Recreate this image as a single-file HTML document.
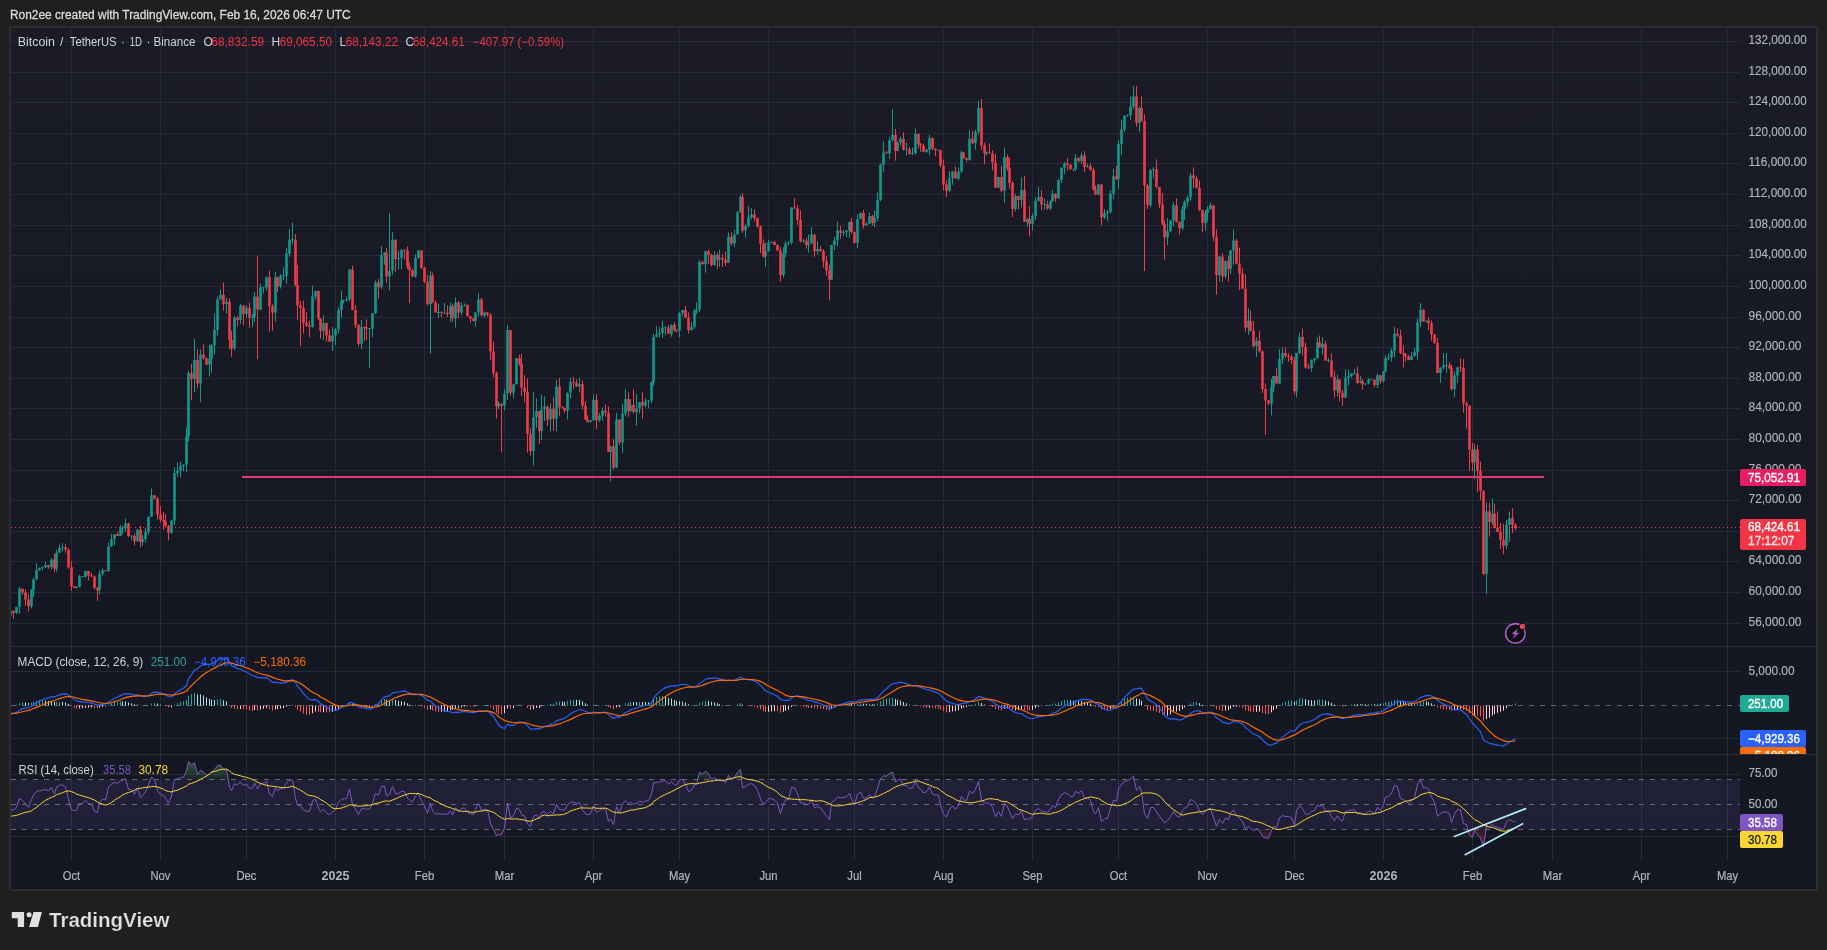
<!DOCTYPE html>
<html><head><meta charset="utf-8">
<style>
html,body{margin:0;padding:0;background:#1f1f1f;width:1827px;height:950px;overflow:hidden;}
svg{position:absolute;left:0;top:0;will-change:transform;}
text{font-family:"Liberation Sans",sans-serif;}
.t{opacity:0.999}
</style></head>
<body>
<svg width="1827" height="950" viewBox="0 0 1827 950">
<defs>
<clipPath id="cp"><rect x="11" y="28" width="1729" height="618"/></clipPath>
<clipPath id="cm"><rect x="11" y="647" width="1729" height="107"/></clipPath>
<clipPath id="cr"><rect x="11" y="755" width="1729" height="106"/></clipPath>
<linearGradient id="bgg" x1="0" y1="0" x2="0" y2="1"><stop offset="0" stop-color="#1a1b27"/><stop offset="1" stop-color="#131722"/></linearGradient>
<linearGradient id="obg" x1="0" y1="0" x2="0" y2="1"><stop offset="0" stop-color="#4caf50" stop-opacity="0.55"/><stop offset="1" stop-color="#4caf50" stop-opacity="0.1"/></linearGradient>
</defs>
<rect x="0" y="0" width="1827" height="950" fill="#1f1f1f"/>
<!-- chart frame -->
<rect x="9" y="26" width="1809" height="865" fill="#2b2e31"/>
<rect x="11" y="28" width="1805" height="861" fill="url(#bgg)"/>
<!-- grid -->
<g stroke="#262936" stroke-width="1" shape-rendering="crispEdges">
<line x1="71.5" y1="28" x2="71.5" y2="861"/>
<line x1="160.5" y1="28" x2="160.5" y2="861"/>
<line x1="246.5" y1="28" x2="246.5" y2="861"/>
<line x1="335.5" y1="28" x2="335.5" y2="861"/>
<line x1="424.5" y1="28" x2="424.5" y2="861"/>
<line x1="504.5" y1="28" x2="504.5" y2="861"/>
<line x1="593.5" y1="28" x2="593.5" y2="861"/>
<line x1="679.5" y1="28" x2="679.5" y2="861"/>
<line x1="768.5" y1="28" x2="768.5" y2="861"/>
<line x1="854.5" y1="28" x2="854.5" y2="861"/>
<line x1="943.5" y1="28" x2="943.5" y2="861"/>
<line x1="1032.5" y1="28" x2="1032.5" y2="861"/>
<line x1="1118.5" y1="28" x2="1118.5" y2="861"/>
<line x1="1207.5" y1="28" x2="1207.5" y2="861"/>
<line x1="1294.5" y1="28" x2="1294.5" y2="861"/>
<line x1="1383.5" y1="28" x2="1383.5" y2="861"/>
<line x1="1472.5" y1="28" x2="1472.5" y2="861"/>
<line x1="1552.5" y1="28" x2="1552.5" y2="861"/>
<line x1="1641.5" y1="28" x2="1641.5" y2="861"/>
<line x1="1727.5" y1="28" x2="1727.5" y2="861"/>
<line x1="11" y1="41.5" x2="1740" y2="41.5"/>
<line x1="11" y1="72.5" x2="1740" y2="72.5"/>
<line x1="11" y1="102.5" x2="1740" y2="102.5"/>
<line x1="11" y1="133.5" x2="1740" y2="133.5"/>
<line x1="11" y1="163.5" x2="1740" y2="163.5"/>
<line x1="11" y1="194.5" x2="1740" y2="194.5"/>
<line x1="11" y1="225.5" x2="1740" y2="225.5"/>
<line x1="11" y1="255.5" x2="1740" y2="255.5"/>
<line x1="11" y1="286.5" x2="1740" y2="286.5"/>
<line x1="11" y1="317.5" x2="1740" y2="317.5"/>
<line x1="11" y1="347.5" x2="1740" y2="347.5"/>
<line x1="11" y1="378.5" x2="1740" y2="378.5"/>
<line x1="11" y1="408.5" x2="1740" y2="408.5"/>
<line x1="11" y1="439.5" x2="1740" y2="439.5"/>
<line x1="11" y1="470.5" x2="1740" y2="470.5"/>
<line x1="11" y1="500.5" x2="1740" y2="500.5"/>
<line x1="11" y1="531.5" x2="1740" y2="531.5"/>
<line x1="11" y1="561.5" x2="1740" y2="561.5"/>
<line x1="11" y1="592.5" x2="1740" y2="592.5"/>
<line x1="11" y1="623.5" x2="1740" y2="623.5"/>
<line x1="11" y1="671.5" x2="1740" y2="671.5"/>
<line x1="11" y1="738.5" x2="1740" y2="738.5"/>
<line x1="11" y1="774.5" x2="1740" y2="774.5"/>
<line x1="11" y1="836.5" x2="1740" y2="836.5"/>
</g>
<!-- separators -->
<g stroke="#2a2e39" stroke-width="1" shape-rendering="crispEdges">
<line x1="11" y1="646.5" x2="1816" y2="646.5"/>
<line x1="11" y1="754.5" x2="1816" y2="754.5"/>
</g>
<!-- price pane -->
<g clip-path="url(#cp)">
<path d="M10.50 610.2V615.8M16.50 606.7V614.1M19.50 586.7V613.6M31.50 589.0V608.4M33.50 577.7V597.1M36.50 563.1V579.9M39.50 567.4V571.1M42.50 566.4V570.5M45.50 561.8V568.2M51.50 558.3V569.7M56.50 550.1V572.1M59.50 544.8V552.8M62.50 543.1V551.5M76.50 586.4V588.4M79.50 574.9V587.2M82.50 576.4V576.8M85.50 570.9V577.7M99.50 570.3V595.0M102.50 568.7V575.8M108.50 542.7V571.9M111.50 533.7V547.0M114.50 534.3V545.3M120.50 525.3V535.9M122.50 525.8V534.2M125.50 518.5V531.9M131.50 535.5V539.7M137.50 528.8V541.7M142.50 534.8V545.8M145.50 527.8V542.6M148.50 516.0V534.4M151.50 488.4V516.8M171.50 519.8V533.6M174.50 467.0V525.1M177.50 462.4V476.7M180.50 461.3V477.5M183.50 464.5V471.2M186.50 427.4V471.8M188.50 370.6V441.5M194.50 338.4V392.0M200.50 349.3V402.3M209.50 344.6V376.6M211.50 344.3V372.6M214.50 313.8V354.2M217.50 296.6V335.6M220.50 289.5V299.4M226.50 297.6V313.8M234.50 316.0V350.6M240.50 303.7V323.9M246.50 305.5V317.4M252.50 314.0V327.4M254.50 291.9V321.9M260.50 283.8V310.3M263.50 287.2V293.5M266.50 276.5V290.3M275.50 271.7V321.6M280.50 274.0V288.5M283.50 267.4V280.1M286.50 248.0V284.3M289.50 229.0V257.1M292.50 222.5V244.1M312.50 285.7V327.7M315.50 290.5V300.0M323.50 315.3V340.4M332.50 327.0V351.1M335.50 328.2V345.0M338.50 307.1V333.3M341.50 291.0V317.8M343.50 299.6V303.7M346.50 296.7V301.6M349.50 268.8V301.0M361.50 320.0V349.0M369.50 328.1V368.3M372.50 313.1V337.1M375.50 280.4V313.9M381.50 246.0V288.8M384.50 252.1V264.7M389.50 212.9V290.2M392.50 232.2V274.7M398.50 250.6V269.5M401.50 249.3V269.4M415.50 254.3V277.6M418.50 250.1V258.7M430.50 271.4V353.7M438.50 303.9V318.0M444.50 302.9V313.6M450.50 302.8V321.5M455.50 297.2V327.5M461.50 302.1V315.4M464.50 303.5V306.5M475.50 312.2V326.3M478.50 293.3V316.5M484.50 311.4V317.6M498.50 401.3V409.2M504.50 389.3V410.4M507.50 324.7V399.8M513.50 383.8V398.4M516.50 358.1V384.4M533.50 392.0V465.5M536.50 398.4V427.9M541.50 394.5V440.0M544.50 396.5V421.2M550.50 403.3V431.3M556.50 379.9V431.4M567.50 392.4V419.4M570.50 377.5V398.2M579.50 377.9V392.5M590.50 420.2V422.8M593.50 394.3V421.1M599.50 412.9V422.3M602.50 407.5V420.6M610.50 445.7V481.5M616.50 412.7V467.8M622.50 403.6V452.8M625.50 389.2V416.1M630.50 399.2V411.9M636.50 394.0V425.7M639.50 401.9V413.6M645.50 398.2V407.2M648.50 399.7V408.5M651.50 381.4V403.5M653.50 333.8V385.7M656.50 326.4V337.3M659.50 326.8V337.7M662.50 320.8V338.0M665.50 326.8V334.5M671.50 324.7V336.7M679.50 311.7V337.3M682.50 310.1V316.2M691.50 321.9V330.9M694.50 309.2V328.8M696.50 302.5V314.0M699.50 259.7V312.3M705.50 250.8V272.7M714.50 251.1V265.9M719.50 249.8V266.9M728.50 232.5V262.8M734.50 229.9V247.1M737.50 210.9V234.5M740.50 195.3V212.6M745.50 224.1V237.6M748.50 206.2V227.5M751.50 208.1V219.5M765.50 242.5V266.6M768.50 239.9V251.7M771.50 241.5V243.0M783.50 247.2V277.5M785.50 240.9V257.2M788.50 240.9V245.2M791.50 207.4V244.3M803.50 238.8V242.7M808.50 234.5V252.7M811.50 227.3V243.6M817.50 241.0V254.3M831.50 244.8V280.1M834.50 237.1V250.1M837.50 221.7V246.4M843.50 229.7V236.0M846.50 230.5V237.3M849.50 221.2V237.7M857.50 214.2V248.4M860.50 212.7V219.2M866.50 222.0V225.9M869.50 212.5V223.7M874.50 210.5V227.2M877.50 192.3V221.3M880.50 163.4V201.3M883.50 141.6V171.6M889.50 136.7V158.9M892.50 108.9V141.5M897.50 141.4V151.0M900.50 136.6V145.4M906.50 142.7V155.5M912.50 147.8V155.0M915.50 128.7V154.1M926.50 148.9V153.2M929.50 134.7V155.0M938.50 149.9V150.3M949.50 170.8V192.2M952.50 171.0V184.7M958.50 167.4V180.3M961.50 150.6V173.2M969.50 129.8V160.6M975.50 130.0V149.8M978.50 100.9V134.6M986.50 151.5V155.9M998.50 176.9V187.9M1004.50 147.6V203.2M1015.50 193.6V211.2M1021.50 177.2V207.3M1027.50 217.4V226.9M1032.50 213.3V230.5M1035.50 197.4V220.1M1038.50 187.3V201.5M1044.50 198.6V209.9M1050.50 200.1V210.0M1052.50 190.1V201.6M1058.50 179.2V198.5M1061.50 167.8V183.0M1064.50 162.0V173.9M1073.50 169.2V171.4M1075.50 154.0V171.3M1081.50 152.7V164.2M1087.50 163.6V167.2M1098.50 183.9V195.3M1104.50 209.1V219.2M1107.50 210.1V221.3M1110.50 190.3V213.3M1113.50 168.8V199.2M1118.50 139.8V189.1M1121.50 119.7V155.3M1124.50 115.7V131.7M1127.50 114.5V116.8M1130.50 96.5V119.7M1133.50 85.9V109.1M1139.50 106.4V131.5M1150.50 169.1V207.0M1153.50 167.1V178.1M1167.50 218.1V245.0M1170.50 220.3V231.9M1173.50 201.8V226.3M1182.50 205.8V230.2M1184.50 200.2V220.1M1187.50 195.8V206.8M1190.50 173.1V200.6M1205.50 210.1V230.7M1207.50 206.5V221.5M1210.50 202.5V209.7M1219.50 256.2V281.7M1225.50 260.3V278.8M1230.50 249.9V274.0M1233.50 229.7V264.7M1248.50 308.0V335.0M1256.50 337.2V356.8M1271.50 378.8V415.4M1273.50 375.8V392.3M1279.50 349.2V384.1M1282.50 347.4V364.0M1296.50 352.9V397.5M1299.50 332.5V354.4M1311.50 359.3V371.6M1314.50 358.0V363.3M1317.50 337.5V358.4M1322.50 337.0V355.1M1328.50 357.9V362.4M1337.50 374.5V396.6M1345.50 369.3V398.0M1348.50 369.6V385.6M1351.50 373.5V377.8M1354.50 368.8V374.1M1360.50 376.2V383.2M1365.50 383.1V385.0M1368.50 378.2V384.3M1371.50 379.7V380.1M1377.50 373.4V387.9M1383.50 371.2V383.0M1385.50 355.3V372.4M1388.50 353.7V360.3M1391.50 348.4V361.8M1394.50 327.0V357.2M1411.50 352.2V359.9M1414.50 348.3V356.7M1417.50 318.4V359.9M1420.50 303.2V326.9M1426.50 320.8V322.1M1440.50 367.5V382.8M1443.50 353.0V369.7M1446.50 353.0V372.9M1454.50 371.3V396.8M1457.50 366.4V382.8M1474.50 444.0V479.2M1486.50 502.2V594.0M1492.50 498.4V524.8M1506.50 519.8V549.3M1509.50 511.4V541.7" stroke="#12998a" stroke-width="1" fill="none"/><path d="M13.50 610.7V618.7M22.50 588.5V594.9M25.50 589.4V605.6M28.50 594.5V611.5M48.50 564.9V568.7M54.50 553.9V572.2M65.50 543.8V552.7M68.50 548.2V568.7M71.50 561.1V591.0M74.50 586.2V588.0M88.50 571.0V580.3M91.50 572.9V576.7M94.50 575.6V589.2M97.50 586.8V600.9M105.50 570.2V571.2M117.50 531.8V536.2M128.50 522.8V537.2M134.50 533.5V545.4M140.50 525.8V547.2M154.50 495.3V499.6M157.50 497.2V519.4M160.50 506.0V522.5M163.50 511.9V529.8M165.50 513.8V527.7M168.50 525.1V540.5M191.50 363.7V400.4M197.50 349.2V388.2M203.50 344.4V359.5M206.50 357.6V365.4M223.50 282.6V310.7M229.50 298.4V349.4M231.50 330.9V356.8M237.50 316.1V326.4M243.50 304.9V325.6M249.50 302.6V327.8M257.50 255.8V359.1M269.50 270.5V331.6M272.50 304.3V330.8M277.50 276.8V291.9M295.50 234.1V286.4M297.50 265.0V320.1M300.50 300.8V346.1M303.50 300.5V333.4M306.50 312.2V327.0M309.50 320.8V337.1M318.50 290.7V320.1M320.50 318.3V338.8M326.50 322.5V341.8M329.50 329.5V342.1M352.50 265.7V310.2M355.50 305.2V328.2M358.50 324.6V346.3M364.50 326.7V341.1M366.50 319.3V340.0M378.50 279.0V298.4M386.50 247.8V283.2M395.50 239.4V272.3M404.50 249.5V259.7M407.50 246.6V269.0M409.50 262.4V303.2M412.50 268.9V276.9M421.50 250.3V268.8M424.50 266.6V283.2M427.50 275.0V305.6M432.50 272.7V302.5M435.50 300.7V312.4M441.50 311.3V317.5M447.50 305.2V317.0M452.50 303.9V322.1M458.50 301.0V318.2M467.50 304.7V316.5M470.50 316.1V322.5M473.50 317.7V321.3M481.50 298.2V316.4M487.50 312.0V316.5M490.50 313.5V359.6M493.50 341.3V377.1M496.50 371.4V418.4M501.50 403.5V452.5M510.50 330.0V395.7M519.50 354.7V366.1M521.50 354.0V395.8M524.50 375.0V402.2M527.50 378.3V452.7M530.50 428.3V455.4M539.50 411.0V443.9M547.50 405.7V425.8M553.50 397.4V430.7M559.50 378.0V416.2M562.50 405.9V408.1M564.50 407.5V413.0M573.50 376.8V388.8M576.50 379.4V386.6M582.50 380.7V409.7M585.50 401.2V419.7M587.50 415.2V422.7M596.50 394.0V428.8M605.50 404.6V416.8M608.50 406.6V451.9M613.50 439.2V469.6M619.50 419.3V444.9M628.50 392.2V416.8M633.50 389.4V413.5M642.50 391.7V419.0M668.50 325.0V333.9M674.50 322.1V331.4M676.50 329.6V332.5M685.50 306.2V318.0M688.50 312.4V333.7M702.50 260.5V264.3M708.50 249.7V264.0M711.50 253.7V266.4M717.50 252.7V269.0M722.50 253.8V267.1M725.50 251.6V266.2M731.50 232.1V245.7M742.50 193.3V232.8M754.50 209.5V221.3M757.50 217.6V227.4M760.50 225.6V253.3M763.50 239.5V257.8M774.50 240.7V245.3M777.50 244.4V251.2M780.50 247.0V281.7M794.50 198.1V208.8M797.50 204.7V224.9M800.50 210.2V242.5M806.50 237.5V248.6M814.50 234.3V256.7M820.50 246.0V251.2M823.50 249.4V267.6M826.50 255.9V275.9M829.50 264.7V300.2M840.50 225.8V238.9M851.50 217.9V233.4M854.50 231.7V243.8M863.50 210.0V228.6M872.50 214.7V225.4M886.50 150.9V153.3M895.50 129.0V160.6M903.50 132.4V150.4M909.50 147.0V154.7M918.50 133.4V148.8M920.50 143.0V151.9M923.50 143.6V152.2M932.50 137.6V150.1M935.50 148.1V156.1M940.50 150.1V167.2M943.50 159.5V190.5M946.50 180.4V197.4M955.50 166.4V178.6M963.50 151.9V158.6M966.50 157.3V162.0M972.50 130.9V144.1M981.50 98.9V149.7M984.50 142.7V164.4M989.50 143.7V153.3M992.50 150.4V170.2M995.50 153.8V187.8M1001.50 165.8V192.4M1007.50 154.4V170.5M1009.50 157.8V188.7M1012.50 181.3V217.1M1018.50 196.1V209.5M1024.50 176.0V222.2M1029.50 206.2V236.4M1041.50 190.3V210.3M1047.50 200.8V209.8M1055.50 193.3V202.1M1067.50 158.2V170.7M1070.50 163.9V169.5M1078.50 157.2V162.6M1084.50 151.3V172.1M1090.50 163.0V170.8M1093.50 167.7V190.5M1095.50 185.5V195.1M1101.50 184.1V225.3M1116.50 166.0V179.6M1136.50 85.9V126.7M1141.50 96.6V121.6M1144.50 114.2V271.1M1147.50 183.7V209.0M1156.50 159.4V188.7M1159.50 186.9V208.2M1162.50 193.1V225.3M1164.50 220.3V259.6M1176.50 198.3V222.5M1179.50 221.4V234.7M1193.50 167.4V188.4M1196.50 176.3V188.6M1199.50 180.7V210.9M1202.50 209.9V232.4M1213.50 205.3V241.2M1216.50 229.4V294.8M1222.50 253.1V281.9M1228.50 255.7V281.7M1236.50 239.0V264.2M1239.50 247.6V290.1M1242.50 268.1V288.9M1245.50 274.5V331.6M1250.50 310.4V331.7M1253.50 321.0V347.6M1259.50 330.9V352.5M1262.50 349.9V392.9M1265.50 383.5V434.9M1268.50 399.8V405.2M1276.50 368.3V383.7M1285.50 347.1V358.0M1288.50 353.1V361.7M1291.50 354.6V364.1M1294.50 357.0V394.0M1302.50 328.5V355.6M1305.50 342.6V368.6M1308.50 363.7V368.7M1319.50 335.5V347.9M1325.50 340.5V360.7M1331.50 353.2V377.1M1334.50 370.8V397.9M1339.50 379.0V401.3M1342.50 389.7V405.8M1357.50 366.7V384.0M1362.50 379.2V389.6M1374.50 379.6V387.4M1380.50 374.9V383.8M1397.50 328.5V336.9M1400.50 329.7V354.1M1403.50 345.5V367.5M1405.50 353.0V361.4M1408.50 354.9V360.4M1423.50 308.8V321.6M1428.50 317.7V330.0M1431.50 320.5V340.8M1434.50 334.2V343.9M1437.50 337.6V372.9M1449.50 362.2V368.9M1451.50 364.5V390.5M1460.50 358.3V372.1M1463.50 359.2V412.7M1466.50 401.4V428.7M1469.50 405.4V470.8M1472.50 442.9V470.8M1477.50 444.8V492.2M1480.50 461.6V499.9M1483.50 490.5V575.3M1489.50 503.0V536.6M1494.50 503.7V528.6M1497.50 511.4V532.0M1500.50 522.9V548.9M1503.50 523.9V554.2M1512.50 508.3V533.0M1515.50 523.1V530.2" stroke="#ef3c4b" stroke-width="1" fill="none"/><path d="M9.20 610.8h2.6V615.4h-2.6ZM15.20 607.0h2.6V613.1h-2.6ZM18.20 588.7h2.6V607.0h-2.6ZM30.20 590.2h2.6V606.3h-2.6ZM32.20 579.5h2.6V590.2h-2.6ZM35.20 570.3h2.6V579.5h-2.6ZM38.20 568.0h2.6V570.3h-2.6ZM41.20 567.1h2.6V568.1h-2.6ZM44.20 564.9h2.6V567.2h-2.6ZM50.20 559.6h2.6V567.2h-2.6ZM55.20 552.7h2.6V568.8h-2.6ZM58.20 548.1h2.6V552.7h-2.6ZM61.20 547.2h2.6V548.2h-2.6ZM75.20 587.0h2.6V588.0h-2.6ZM78.20 576.4h2.6V587.1h-2.6ZM81.20 575.9h2.6V576.9h-2.6ZM84.20 571.1h2.6V576.4h-2.6ZM98.20 574.1h2.6V590.2h-2.6ZM101.20 570.3h2.6V574.1h-2.6ZM107.20 546.6h2.6V571.1h-2.6ZM110.20 538.9h2.6V546.6h-2.6ZM113.20 534.3h2.6V538.9h-2.6ZM119.20 528.2h2.6V535.9h-2.6ZM121.20 527.7h2.6V528.7h-2.6ZM124.20 523.6h2.6V528.2h-2.6ZM130.20 535.4h2.6V536.4h-2.6ZM136.20 529.7h2.6V541.2h-2.6ZM141.20 538.9h2.6V542.0h-2.6ZM144.20 532.0h2.6V538.9h-2.6ZM147.20 516.7h2.6V532.0h-2.6ZM150.20 495.3h2.6V516.7h-2.6ZM170.20 520.6h2.6V532.8h-2.6ZM173.20 473.1h2.6V520.6h-2.6ZM176.20 470.8h2.6V473.1h-2.6ZM179.20 466.2h2.6V470.8h-2.6ZM182.20 464.7h2.6V466.2h-2.6ZM185.20 436.4h2.6V464.7h-2.6ZM187.20 372.9h2.6V436.4h-2.6ZM193.20 359.9h2.6V379.0h-2.6ZM199.20 354.5h2.6V383.6h-2.6ZM208.20 359.1h2.6V364.5h-2.6ZM210.20 345.3h2.6V359.1h-2.6ZM213.20 330.0h2.6V345.3h-2.6ZM216.20 299.4h2.6V330.0h-2.6ZM219.20 294.8h2.6V299.4h-2.6ZM225.20 301.7h2.6V304.0h-2.6ZM233.20 317.8h2.6V348.4h-2.6ZM239.20 305.5h2.6V320.1h-2.6ZM245.20 307.8h2.6V314.0h-2.6ZM251.20 316.9h2.6V317.9h-2.6ZM253.20 296.4h2.6V317.0h-2.6ZM259.20 287.2h2.6V309.4h-2.6ZM262.20 286.7h2.6V287.7h-2.6ZM265.20 277.2h2.6V287.2h-2.6ZM274.20 277.2h2.6V312.4h-2.6ZM279.20 275.7h2.6V286.4h-2.6ZM282.20 275.2h2.6V276.2h-2.6ZM285.20 253.5h2.6V275.7h-2.6ZM288.20 239.7h2.6V253.5h-2.6ZM291.20 239.2h2.6V240.2h-2.6ZM311.20 296.4h2.6V327.0h-2.6ZM314.20 291.0h2.6V296.4h-2.6ZM322.20 323.1h2.6V330.8h-2.6ZM331.20 335.4h2.6V341.5h-2.6ZM334.20 329.3h2.6V335.4h-2.6ZM337.20 310.1h2.6V329.3h-2.6ZM340.20 300.9h2.6V310.1h-2.6ZM342.20 300.1h2.6V301.1h-2.6ZM345.20 299.3h2.6V300.3h-2.6ZM348.20 269.6h2.6V299.4h-2.6ZM360.20 327.0h2.6V343.8h-2.6ZM368.20 328.0h2.6V329.0h-2.6ZM371.20 313.2h2.6V328.5h-2.6ZM374.20 282.6h2.6V313.2h-2.6ZM380.20 255.0h2.6V287.2h-2.6ZM383.20 252.7h2.6V255.0h-2.6ZM388.20 271.1h2.6V276.5h-2.6ZM391.20 239.7h2.6V271.1h-2.6ZM397.20 258.0h2.6V259.0h-2.6ZM400.20 249.7h2.6V258.1h-2.6ZM414.20 258.1h2.6V276.5h-2.6ZM417.20 250.4h2.6V258.1h-2.6ZM429.20 275.7h2.6V304.0h-2.6ZM437.20 311.9h2.6V312.9h-2.6ZM443.20 312.7h2.6V313.7h-2.6ZM449.20 306.3h2.6V314.0h-2.6ZM454.20 302.5h2.6V318.5h-2.6ZM460.20 305.5h2.6V312.4h-2.6ZM463.20 304.7h2.6V305.7h-2.6ZM474.20 312.4h2.6V320.8h-2.6ZM477.20 299.4h2.6V312.4h-2.6ZM483.20 312.4h2.6V315.5h-2.6ZM497.20 403.5h2.6V406.5h-2.6ZM503.20 393.5h2.6V405.8h-2.6ZM506.20 330.0h2.6V393.5h-2.6ZM512.20 384.3h2.6V392.8h-2.6ZM515.20 358.3h2.6V384.3h-2.6ZM532.20 417.3h2.6V450.9h-2.6ZM535.20 411.1h2.6V417.3h-2.6ZM540.20 409.6h2.6V431.0h-2.6ZM543.20 406.5h2.6V409.6h-2.6ZM549.20 408.8h2.6V419.5h-2.6ZM555.20 386.6h2.6V418.8h-2.6ZM566.20 392.8h2.6V410.4h-2.6ZM569.20 382.1h2.6V392.8h-2.6ZM578.20 384.3h2.6V386.6h-2.6ZM589.20 420.3h2.6V421.8h-2.6ZM592.20 399.7h2.6V420.3h-2.6ZM598.20 415.7h2.6V420.3h-2.6ZM601.20 410.4h2.6V415.7h-2.6ZM609.20 446.3h2.6V451.7h-2.6ZM615.20 419.5h2.6V467.8h-2.6ZM621.20 413.4h2.6V442.5h-2.6ZM624.20 398.9h2.6V413.4h-2.6ZM629.20 405.0h2.6V411.1h-2.6ZM635.20 408.8h2.6V411.9h-2.6ZM638.20 401.9h2.6V408.8h-2.6ZM644.20 401.2h2.6V405.8h-2.6ZM647.20 400.3h2.6V401.3h-2.6ZM650.20 382.1h2.6V400.4h-2.6ZM652.20 336.9h2.6V382.1h-2.6ZM655.20 334.6h2.6V336.9h-2.6ZM658.20 333.1h2.6V334.6h-2.6ZM661.20 327.7h2.6V333.1h-2.6ZM664.20 327.2h2.6V328.2h-2.6ZM670.20 324.7h2.6V333.8h-2.6ZM678.20 313.2h2.6V330.8h-2.6ZM681.20 310.1h2.6V313.2h-2.6ZM690.20 327.0h2.6V330.0h-2.6ZM693.20 310.9h2.6V327.0h-2.6ZM695.20 309.4h2.6V310.9h-2.6ZM698.20 261.9h2.6V309.4h-2.6ZM704.20 251.2h2.6V264.2h-2.6ZM713.20 255.0h2.6V265.0h-2.6ZM718.20 258.1h2.6V259.6h-2.6ZM727.20 236.7h2.6V262.7h-2.6ZM733.20 234.4h2.6V243.6h-2.6ZM736.20 212.2h2.6V234.4h-2.6ZM739.20 196.9h2.6V212.2h-2.6ZM744.20 226.0h2.6V230.5h-2.6ZM747.20 217.5h2.6V226.0h-2.6ZM750.20 214.5h2.6V217.5h-2.6ZM764.20 251.2h2.6V256.6h-2.6ZM767.20 242.8h2.6V251.2h-2.6ZM770.20 241.9h2.6V242.9h-2.6ZM782.20 253.5h2.6V274.9h-2.6ZM784.20 243.6h2.6V253.5h-2.6ZM787.20 242.7h2.6V243.7h-2.6ZM790.20 207.6h2.6V242.8h-2.6ZM802.20 240.4h2.6V241.4h-2.6ZM807.20 243.6h2.6V245.1h-2.6ZM810.20 234.4h2.6V243.6h-2.6ZM816.20 248.9h2.6V251.2h-2.6ZM830.20 245.1h2.6V279.5h-2.6ZM833.20 240.5h2.6V245.1h-2.6ZM836.20 230.5h2.6V240.5h-2.6ZM842.20 232.0h2.6V233.0h-2.6ZM845.20 230.5h2.6V232.1h-2.6ZM848.20 222.1h2.6V230.5h-2.6ZM856.20 219.1h2.6V242.8h-2.6ZM859.20 212.9h2.6V219.1h-2.6ZM865.20 223.7h2.6V225.2h-2.6ZM868.20 216.0h2.6V223.7h-2.6ZM873.20 218.3h2.6V222.9h-2.6ZM876.20 199.9h2.6V218.3h-2.6ZM879.20 164.7h2.6V199.9h-2.6ZM882.20 152.5h2.6V164.7h-2.6ZM888.20 140.3h2.6V153.3h-2.6ZM891.20 134.9h2.6V140.3h-2.6ZM896.20 142.5h2.6V151.0h-2.6ZM899.20 138.7h2.6V142.5h-2.6ZM905.20 148.9h2.6V149.9h-2.6ZM911.20 153.1h2.6V154.1h-2.6ZM914.20 134.1h2.6V153.3h-2.6ZM925.20 149.4h2.6V151.7h-2.6ZM928.20 138.0h2.6V149.4h-2.6ZM937.20 149.7h2.6V150.7h-2.6ZM948.20 177.7h2.6V190.8h-2.6ZM951.20 171.6h2.6V177.7h-2.6ZM957.20 171.6h2.6V178.5h-2.6ZM960.20 152.5h2.6V171.6h-2.6ZM968.20 138.7h2.6V160.1h-2.6ZM974.20 131.8h2.6V143.3h-2.6ZM977.20 108.1h2.6V131.8h-2.6ZM985.20 152.4h2.6V153.4h-2.6ZM997.20 177.0h2.6V187.7h-2.6ZM1003.20 157.1h2.6V190.8h-2.6ZM1014.20 196.1h2.6V209.1h-2.6ZM1020.20 190.0h2.6V199.9h-2.6ZM1026.20 219.1h2.6V222.1h-2.6ZM1031.20 216.0h2.6V223.7h-2.6ZM1034.20 200.7h2.6V216.0h-2.6ZM1037.20 196.9h2.6V200.7h-2.6ZM1043.20 204.0h2.6V205.0h-2.6ZM1049.20 201.5h2.6V208.4h-2.6ZM1051.20 193.8h2.6V201.5h-2.6ZM1057.20 180.0h2.6V198.4h-2.6ZM1060.20 167.8h2.6V180.0h-2.6ZM1063.20 163.2h2.6V167.8h-2.6ZM1072.20 168.8h2.6V169.8h-2.6ZM1074.20 157.9h2.6V169.3h-2.6ZM1080.20 155.6h2.6V160.9h-2.6ZM1086.20 166.2h2.6V167.2h-2.6ZM1097.20 184.6h2.6V194.6h-2.6ZM1103.20 212.9h2.6V217.5h-2.6ZM1106.20 212.1h2.6V213.1h-2.6ZM1109.20 193.8h2.6V212.2h-2.6ZM1112.20 176.2h2.6V193.8h-2.6ZM1117.20 144.1h2.6V179.3h-2.6ZM1120.20 129.5h2.6V144.1h-2.6ZM1123.20 115.8h2.6V129.5h-2.6ZM1126.20 114.9h2.6V115.9h-2.6ZM1129.20 106.6h2.6V115.0h-2.6ZM1132.20 96.6h2.6V106.6h-2.6ZM1138.20 108.1h2.6V122.7h-2.6ZM1149.20 170.1h2.6V205.3h-2.6ZM1152.20 169.2h2.6V170.2h-2.6ZM1166.20 231.3h2.6V237.4h-2.6ZM1169.20 220.6h2.6V231.3h-2.6ZM1172.20 205.3h2.6V220.6h-2.6ZM1181.20 209.1h2.6V228.2h-2.6ZM1183.20 202.2h2.6V209.1h-2.6ZM1186.20 197.6h2.6V202.2h-2.6ZM1189.20 175.4h2.6V197.6h-2.6ZM1204.20 212.9h2.6V222.9h-2.6ZM1206.20 209.1h2.6V212.9h-2.6ZM1209.20 205.3h2.6V209.1h-2.6ZM1218.20 256.6h2.6V274.9h-2.6ZM1224.20 261.2h2.6V276.5h-2.6ZM1229.20 250.4h2.6V268.8h-2.6ZM1232.20 240.5h2.6V250.4h-2.6ZM1247.20 320.8h2.6V327.7h-2.6ZM1255.20 340.7h2.6V346.1h-2.6ZM1270.20 387.4h2.6V403.5h-2.6ZM1272.20 375.9h2.6V387.4h-2.6ZM1278.20 359.1h2.6V383.6h-2.6ZM1281.20 353.0h2.6V359.1h-2.6ZM1295.20 353.0h2.6V391.2h-2.6ZM1298.20 336.9h2.6V353.0h-2.6ZM1310.20 359.9h2.6V368.3h-2.6ZM1313.20 358.3h2.6V359.9h-2.6ZM1316.20 342.3h2.6V358.3h-2.6ZM1321.20 343.8h2.6V347.6h-2.6ZM1327.20 360.1h2.6V361.1h-2.6ZM1336.20 379.8h2.6V390.5h-2.6ZM1344.20 377.5h2.6V397.4h-2.6ZM1347.20 375.9h2.6V377.5h-2.6ZM1350.20 373.6h2.6V375.9h-2.6ZM1353.20 373.1h2.6V374.1h-2.6ZM1359.20 381.3h2.6V382.8h-2.6ZM1364.20 383.5h2.6V384.5h-2.6ZM1367.20 379.8h2.6V383.6h-2.6ZM1370.20 379.3h2.6V380.3h-2.6ZM1376.20 375.2h2.6V385.1h-2.6ZM1382.20 371.3h2.6V381.3h-2.6ZM1384.20 358.3h2.6V371.3h-2.6ZM1387.20 357.5h2.6V358.5h-2.6ZM1390.20 350.7h2.6V357.6h-2.6ZM1393.20 333.8h2.6V350.7h-2.6ZM1410.20 356.0h2.6V359.9h-2.6ZM1413.20 352.2h2.6V356.0h-2.6ZM1416.20 322.4h2.6V352.2h-2.6ZM1419.20 310.1h2.6V322.4h-2.6ZM1425.20 320.7h2.6V321.7h-2.6ZM1439.20 367.5h2.6V372.9h-2.6ZM1442.20 365.2h2.6V367.5h-2.6ZM1445.20 364.7h2.6V365.7h-2.6ZM1453.20 375.5h2.6V388.9h-2.6ZM1456.20 367.5h2.6V375.5h-2.6ZM1473.20 449.4h2.6V462.4h-2.6ZM1485.20 511.4h2.6V574.1h-2.6ZM1491.20 513.7h2.6V522.1h-2.6ZM1505.20 524.8h2.6V545.8h-2.6ZM1508.20 518.3h2.6V524.8h-2.6Z" fill="#12998a"/><path d="M12.20 610.8h2.6V613.1h-2.6ZM21.20 588.7h2.6V592.5h-2.6ZM24.20 592.5h2.6V599.4h-2.6ZM27.20 599.4h2.6V606.3h-2.6ZM47.20 564.9h2.6V567.2h-2.6ZM53.20 559.6h2.6V568.8h-2.6ZM64.20 547.3h2.6V549.6h-2.6ZM67.20 549.6h2.6V567.2h-2.6ZM70.20 567.2h2.6V586.4h-2.6ZM73.20 586.4h2.6V587.9h-2.6ZM87.20 571.1h2.6V575.6h-2.6ZM90.20 575.5h2.6V576.5h-2.6ZM93.20 576.4h2.6V587.9h-2.6ZM96.20 587.9h2.6V590.2h-2.6ZM104.20 570.2h2.6V571.2h-2.6ZM116.20 534.3h2.6V535.9h-2.6ZM127.20 523.6h2.6V535.9h-2.6ZM133.20 535.9h2.6V541.2h-2.6ZM139.20 529.7h2.6V542.0h-2.6ZM153.20 495.3h2.6V498.4h-2.6ZM156.20 498.4h2.6V514.4h-2.6ZM159.20 514.4h2.6V519.8h-2.6ZM162.20 519.8h2.6V521.3h-2.6ZM164.20 521.3h2.6V525.9h-2.6ZM167.20 525.9h2.6V532.8h-2.6ZM190.20 372.9h2.6V379.0h-2.6ZM196.20 359.9h2.6V383.6h-2.6ZM202.20 354.5h2.6V358.3h-2.6ZM205.20 358.3h2.6V364.5h-2.6ZM222.20 294.8h2.6V304.0h-2.6ZM228.20 301.7h2.6V340.0h-2.6ZM230.20 340.0h2.6V348.4h-2.6ZM236.20 317.8h2.6V320.1h-2.6ZM242.20 305.5h2.6V314.0h-2.6ZM248.20 307.8h2.6V317.8h-2.6ZM256.20 296.4h2.6V309.4h-2.6ZM268.20 277.2h2.6V306.3h-2.6ZM271.20 306.3h2.6V312.4h-2.6ZM276.20 277.2h2.6V286.4h-2.6ZM294.20 239.7h2.6V284.9h-2.6ZM296.20 284.9h2.6V305.5h-2.6ZM299.20 305.5h2.6V307.8h-2.6ZM302.20 307.8h2.6V323.1h-2.6ZM305.20 323.1h2.6V325.4h-2.6ZM308.20 325.4h2.6V327.0h-2.6ZM317.20 291.0h2.6V318.5h-2.6ZM319.20 318.5h2.6V330.8h-2.6ZM325.20 323.1h2.6V335.4h-2.6ZM328.20 335.4h2.6V341.5h-2.6ZM351.20 269.6h2.6V310.1h-2.6ZM354.20 310.1h2.6V324.7h-2.6ZM357.20 324.7h2.6V343.8h-2.6ZM363.20 326.8h2.6V327.8h-2.6ZM365.20 327.6h2.6V328.6h-2.6ZM377.20 282.6h2.6V287.2h-2.6ZM385.20 252.7h2.6V276.5h-2.6ZM394.20 239.7h2.6V258.9h-2.6ZM403.20 249.6h2.6V250.6h-2.6ZM406.20 250.4h2.6V266.5h-2.6ZM408.20 266.5h2.6V270.3h-2.6ZM411.20 270.3h2.6V276.5h-2.6ZM420.20 250.4h2.6V268.0h-2.6ZM423.20 268.0h2.6V281.8h-2.6ZM426.20 281.8h2.6V304.0h-2.6ZM431.20 275.7h2.6V302.5h-2.6ZM434.20 302.5h2.6V312.4h-2.6ZM440.20 312.3h2.6V313.3h-2.6ZM446.20 313.1h2.6V314.1h-2.6ZM451.20 306.3h2.6V318.5h-2.6ZM457.20 302.5h2.6V312.4h-2.6ZM466.20 304.8h2.6V316.2h-2.6ZM469.20 316.2h2.6V318.5h-2.6ZM472.20 318.5h2.6V320.8h-2.6ZM480.20 299.4h2.6V315.5h-2.6ZM486.20 312.4h2.6V314.7h-2.6ZM489.20 314.7h2.6V351.4h-2.6ZM492.20 351.4h2.6V372.9h-2.6ZM495.20 372.9h2.6V406.5h-2.6ZM500.20 403.5h2.6V405.8h-2.6ZM509.20 330.0h2.6V392.8h-2.6ZM518.20 358.3h2.6V363.7h-2.6ZM520.20 363.7h2.6V387.4h-2.6ZM523.20 387.4h2.6V392.0h-2.6ZM526.20 392.0h2.6V434.1h-2.6ZM529.20 434.1h2.6V450.9h-2.6ZM538.20 411.1h2.6V431.0h-2.6ZM546.20 406.5h2.6V419.5h-2.6ZM552.20 408.8h2.6V418.8h-2.6ZM558.20 386.6h2.6V407.3h-2.6ZM561.20 407.2h2.6V408.2h-2.6ZM563.20 408.1h2.6V410.4h-2.6ZM572.20 381.9h2.6V382.9h-2.6ZM575.20 382.8h2.6V386.6h-2.6ZM581.20 384.3h2.6V405.8h-2.6ZM584.20 405.8h2.6V419.5h-2.6ZM586.20 419.5h2.6V421.8h-2.6ZM595.20 399.7h2.6V420.3h-2.6ZM604.20 410.4h2.6V412.7h-2.6ZM607.20 412.7h2.6V451.7h-2.6ZM612.20 446.3h2.6V467.8h-2.6ZM618.20 419.5h2.6V442.5h-2.6ZM627.20 398.9h2.6V411.1h-2.6ZM632.20 405.0h2.6V411.9h-2.6ZM641.20 401.9h2.6V405.8h-2.6ZM667.20 327.7h2.6V333.8h-2.6ZM673.20 324.7h2.6V330.0h-2.6ZM675.20 329.9h2.6V330.9h-2.6ZM684.20 310.1h2.6V317.8h-2.6ZM687.20 317.8h2.6V330.0h-2.6ZM701.20 261.9h2.6V264.2h-2.6ZM707.20 251.2h2.6V255.0h-2.6ZM710.20 255.0h2.6V265.0h-2.6ZM716.20 255.0h2.6V259.6h-2.6ZM721.20 258.1h2.6V259.6h-2.6ZM724.20 259.6h2.6V262.7h-2.6ZM730.20 236.7h2.6V243.6h-2.6ZM741.20 196.9h2.6V230.5h-2.6ZM753.20 214.5h2.6V218.3h-2.6ZM756.20 218.3h2.6V226.7h-2.6ZM759.20 226.7h2.6V243.6h-2.6ZM762.20 243.6h2.6V256.6h-2.6ZM773.20 242.0h2.6V245.1h-2.6ZM776.20 245.1h2.6V250.4h-2.6ZM779.20 250.4h2.6V274.9h-2.6ZM793.20 207.5h2.6V208.5h-2.6ZM796.20 208.4h2.6V219.8h-2.6ZM799.20 219.8h2.6V241.3h-2.6ZM805.20 240.5h2.6V245.1h-2.6ZM813.20 234.4h2.6V251.2h-2.6ZM819.20 248.9h2.6V251.2h-2.6ZM822.20 251.2h2.6V261.2h-2.6ZM825.20 261.2h2.6V270.3h-2.6ZM828.20 270.3h2.6V279.5h-2.6ZM839.20 230.5h2.6V232.8h-2.6ZM850.20 222.1h2.6V232.1h-2.6ZM853.20 232.1h2.6V242.8h-2.6ZM862.20 212.9h2.6V225.2h-2.6ZM871.20 216.0h2.6V222.9h-2.6ZM885.20 152.4h2.6V153.4h-2.6ZM894.20 134.9h2.6V151.0h-2.6ZM902.20 138.7h2.6V149.4h-2.6ZM908.20 149.4h2.6V154.0h-2.6ZM917.20 134.1h2.6V144.1h-2.6ZM919.20 144.1h2.6V145.6h-2.6ZM922.20 145.6h2.6V151.7h-2.6ZM931.20 138.0h2.6V148.7h-2.6ZM934.20 148.7h2.6V150.2h-2.6ZM939.20 150.2h2.6V165.5h-2.6ZM942.20 165.5h2.6V184.6h-2.6ZM945.20 184.6h2.6V190.8h-2.6ZM954.20 171.6h2.6V178.5h-2.6ZM962.20 152.5h2.6V158.6h-2.6ZM965.20 158.6h2.6V160.1h-2.6ZM971.20 138.7h2.6V143.3h-2.6ZM980.20 108.1h2.6V145.6h-2.6ZM983.20 145.6h2.6V153.3h-2.6ZM988.20 152.4h2.6V153.4h-2.6ZM991.20 153.3h2.6V162.4h-2.6ZM994.20 162.4h2.6V187.7h-2.6ZM1000.20 177.0h2.6V190.8h-2.6ZM1006.20 157.1h2.6V168.6h-2.6ZM1008.20 168.6h2.6V183.1h-2.6ZM1011.20 183.1h2.6V209.1h-2.6ZM1017.20 196.1h2.6V199.9h-2.6ZM1023.20 190.0h2.6V222.1h-2.6ZM1028.20 219.1h2.6V223.7h-2.6ZM1040.20 196.9h2.6V204.5h-2.6ZM1046.20 204.5h2.6V208.4h-2.6ZM1054.20 193.8h2.6V198.4h-2.6ZM1066.20 163.2h2.6V164.7h-2.6ZM1069.20 164.7h2.6V169.3h-2.6ZM1077.20 157.9h2.6V160.9h-2.6ZM1083.20 155.6h2.6V167.0h-2.6ZM1089.20 166.3h2.6V170.1h-2.6ZM1092.20 170.1h2.6V189.2h-2.6ZM1094.20 189.2h2.6V194.6h-2.6ZM1100.20 184.6h2.6V217.5h-2.6ZM1115.20 176.2h2.6V179.3h-2.6ZM1135.20 96.6h2.6V122.7h-2.6ZM1140.20 108.1h2.6V121.1h-2.6ZM1143.20 121.1h2.6V185.4h-2.6ZM1146.20 185.4h2.6V205.3h-2.6ZM1155.20 169.3h2.6V186.9h-2.6ZM1158.20 186.9h2.6V204.5h-2.6ZM1161.20 204.5h2.6V223.7h-2.6ZM1163.20 223.7h2.6V237.4h-2.6ZM1175.20 205.3h2.6V222.1h-2.6ZM1178.20 222.1h2.6V228.2h-2.6ZM1192.20 175.4h2.6V178.5h-2.6ZM1195.20 178.5h2.6V187.7h-2.6ZM1198.20 187.7h2.6V209.9h-2.6ZM1201.20 209.9h2.6V222.9h-2.6ZM1212.20 205.3h2.6V236.7h-2.6ZM1215.20 236.7h2.6V274.9h-2.6ZM1221.20 256.6h2.6V276.5h-2.6ZM1227.20 261.2h2.6V268.8h-2.6ZM1235.20 240.5h2.6V263.4h-2.6ZM1238.20 263.4h2.6V273.4h-2.6ZM1241.20 273.4h2.6V288.7h-2.6ZM1244.20 288.7h2.6V327.7h-2.6ZM1249.20 320.8h2.6V330.8h-2.6ZM1252.20 330.8h2.6V346.1h-2.6ZM1258.20 340.7h2.6V351.4h-2.6ZM1261.20 351.4h2.6V388.9h-2.6ZM1264.20 388.9h2.6V400.4h-2.6ZM1267.20 400.4h2.6V403.5h-2.6ZM1275.20 375.9h2.6V383.6h-2.6ZM1284.20 353.0h2.6V356.0h-2.6ZM1287.20 355.9h2.6V356.9h-2.6ZM1290.20 356.8h2.6V359.9h-2.6ZM1293.20 359.9h2.6V391.2h-2.6ZM1301.20 336.9h2.6V346.9h-2.6ZM1304.20 346.9h2.6V367.5h-2.6ZM1307.20 367.4h2.6V368.4h-2.6ZM1318.20 342.3h2.6V347.6h-2.6ZM1324.20 343.8h2.6V360.6h-2.6ZM1330.20 360.6h2.6V376.7h-2.6ZM1333.20 376.7h2.6V390.5h-2.6ZM1338.20 379.8h2.6V392.8h-2.6ZM1341.20 392.8h2.6V397.4h-2.6ZM1356.20 373.6h2.6V382.8h-2.6ZM1361.20 381.3h2.6V384.3h-2.6ZM1373.20 379.8h2.6V385.1h-2.6ZM1379.20 375.2h2.6V381.3h-2.6ZM1396.20 333.8h2.6V335.4h-2.6ZM1399.20 335.4h2.6V353.0h-2.6ZM1402.20 353.0h2.6V354.5h-2.6ZM1404.20 354.5h2.6V356.8h-2.6ZM1407.20 356.8h2.6V359.9h-2.6ZM1422.20 310.1h2.6V321.6h-2.6ZM1427.20 320.8h2.6V323.1h-2.6ZM1430.20 323.1h2.6V334.6h-2.6ZM1433.20 334.6h2.6V343.0h-2.6ZM1436.20 343.0h2.6V372.9h-2.6ZM1448.20 365.2h2.6V368.3h-2.6ZM1450.20 368.3h2.6V388.9h-2.6ZM1459.20 367.2h2.6V368.2h-2.6ZM1462.20 367.9h2.6V403.5h-2.6ZM1465.20 403.5h2.6V405.4h-2.6ZM1468.20 405.4h2.6V449.4h-2.6ZM1471.20 449.4h2.6V462.4h-2.6ZM1476.20 449.4h2.6V470.8h-2.6ZM1479.20 470.8h2.6V490.7h-2.6ZM1482.20 490.7h2.6V574.1h-2.6ZM1488.20 511.4h2.6V522.1h-2.6ZM1493.20 513.7h2.6V527.8h-2.6ZM1496.20 527.8h2.6V532.0h-2.6ZM1499.20 532.0h2.6V539.7h-2.6ZM1502.20 539.7h2.6V545.8h-2.6ZM1511.20 518.3h2.6V524.9h-2.6ZM1514.20 524.9h2.6V528.0h-2.6Z" fill="#ef3c4b"/>
<line x1="242" y1="477" x2="1544" y2="477" stroke="#de3972" stroke-width="2"/>
<line x1="11" y1="527.5" x2="1740" y2="527.5" stroke="#f23645" stroke-width="1" stroke-dasharray="1 3"/>
</g>
<!-- macd pane -->
<line x1="11" y1="705.5" x2="1740" y2="705.5" stroke="#787b86" stroke-width="1" stroke-dasharray="5 6" opacity="0.75"/>
<g clip-path="url(#cm)">
<path d="M16.50 705.5V704.8M19.50 705.5V703.1M22.50 705.5V702.4M31.50 705.5V702.4M33.50 705.5V701.6M36.50 705.5V700.8M39.50 705.5V700.4M42.50 705.5V700.3M56.50 705.5V701.8M59.50 705.5V701.8M108.50 705.5V704.6M111.50 705.5V703.1M114.50 705.5V702.1M117.50 705.5V701.8M120.50 705.5V701.4M148.50 705.5V705.1M151.50 705.5V703.5M154.50 705.5V702.9M174.50 705.5V704.6M177.50 705.5V702.9M180.50 705.5V701.9M183.50 705.5V701.4M186.50 705.5V699.9M188.50 705.5V695.8M191.50 705.5V694.2M194.50 705.5V693.0M217.50 705.5V699.3M220.50 705.5V699.1M289.50 705.5V705.3M292.50 705.5V704.6M346.50 705.5V704.7M349.50 705.5V702.5M375.50 705.5V704.0M378.50 705.5V702.8M381.50 705.5V700.4M384.50 705.5V699.0M392.50 705.5V699.3M478.50 705.5V705.1M484.50 705.5V705.1M519.50 705.5V704.7M544.50 705.5V705.0M547.50 705.5V704.7M550.50 705.5V703.8M553.50 705.5V703.6M556.50 705.5V701.7M559.50 705.5V701.6M567.50 705.5V701.1M570.50 705.5V700.1M573.50 705.5V699.6M593.50 705.5V704.6M602.50 705.5V705.0M605.50 705.5V704.9M622.50 705.5V705.3M625.50 705.5V703.2M628.50 705.5V702.6M630.50 705.5V702.0M639.50 705.5V701.8M651.50 705.5V701.4M653.50 705.5V698.5M656.50 705.5V697.0M659.50 705.5V696.4M662.50 705.5V696.3M694.50 705.5V705.2M699.50 705.5V702.8M702.50 705.5V701.8M705.50 705.5V700.8M728.50 705.5V705.4M734.50 705.5V705.5M737.50 705.5V704.4M740.50 705.5V703.1M794.50 705.5V705.4M797.50 705.5V705.0M840.50 705.5V704.9M843.50 705.5V704.3M846.50 705.5V704.0M849.50 705.5V703.4M857.50 705.5V703.9M860.50 705.5V703.2M869.50 705.5V703.8M877.50 705.5V703.6M880.50 705.5V701.2M883.50 705.5V699.4M886.50 705.5V698.6M889.50 705.5V697.9M892.50 705.5V697.6M915.50 705.5V705.4M969.50 705.5V705.5M972.50 705.5V704.8M975.50 705.5V703.8M978.50 705.5V701.9M1047.50 705.5V705.3M1050.50 705.5V704.7M1052.50 705.5V703.9M1055.50 705.5V703.6M1058.50 705.5V702.4M1061.50 705.5V701.1M1064.50 705.5V700.1M1067.50 705.5V699.9M1075.50 705.5V700.6M1118.50 705.5V703.3M1121.50 705.5V700.9M1124.50 705.5V698.9M1127.50 705.5V697.9M1130.50 705.5V697.3M1133.50 705.5V696.8M1190.50 705.5V703.5M1193.50 705.5V702.2M1196.50 705.5V702.0M1207.50 705.5V705.1M1210.50 705.5V704.8M1282.50 705.5V703.2M1285.50 705.5V701.7M1288.50 705.5V700.6M1291.50 705.5V700.1M1296.50 705.5V700.3M1299.50 705.5V698.6M1302.50 705.5V698.2M1317.50 705.5V699.6M1319.50 705.5V699.5M1322.50 705.5V699.5M1348.50 705.5V705.1M1351.50 705.5V704.4M1354.50 705.5V703.9M1368.50 705.5V704.1M1371.50 705.5V703.9M1377.50 705.5V703.7M1383.50 705.5V703.3M1385.50 705.5V702.3M1388.50 705.5V701.8M1391.50 705.5V701.2M1394.50 705.5V700.0M1397.50 705.5V699.7M1417.50 705.5V702.8M1420.50 705.5V701.3M1423.50 705.5V701.3M1512.50 705.5V704.5M1515.50 705.5V703.5" stroke="#26a69a" stroke-width="1" fill="none"/><path d="M25.50 705.5V702.4M28.50 705.5V702.9M45.50 705.5V700.5M48.50 705.5V700.9M51.50 705.5V701.1M54.50 705.5V702.0M62.50 705.5V701.9M65.50 705.5V702.4M68.50 705.5V703.9M122.50 705.5V701.4M125.50 705.5V701.5M128.50 705.5V702.5M131.50 705.5V703.3M134.50 705.5V704.3M137.50 705.5V704.5M140.50 705.5V705.4M157.50 705.5V703.6M160.50 705.5V704.6M163.50 705.5V705.4M197.50 705.5V694.4M200.50 705.5V694.4M203.50 705.5V695.5M206.50 705.5V697.4M209.50 705.5V698.9M211.50 705.5V699.8M214.50 705.5V700.1M223.50 705.5V700.3M226.50 705.5V701.5M229.50 705.5V705.0M352.50 705.5V703.6M355.50 705.5V705.1M386.50 705.5V699.8M389.50 705.5V700.4M395.50 705.5V700.0M398.50 705.5V700.8M401.50 705.5V701.2M404.50 705.5V701.8M407.50 705.5V703.3M409.50 705.5V704.7M481.50 705.5V705.2M487.50 705.5V705.1M521.50 705.5V705.2M562.50 705.5V701.7M564.50 705.5V701.9M576.50 705.5V699.8M579.50 705.5V699.9M582.50 705.5V701.4M585.50 705.5V703.3M587.50 705.5V704.6M590.50 705.5V705.3M596.50 705.5V705.2M599.50 705.5V705.3M633.50 705.5V702.1M636.50 705.5V702.1M642.50 705.5V702.0M645.50 705.5V702.0M648.50 705.5V702.2M665.50 705.5V696.7M668.50 705.5V697.9M671.50 705.5V698.6M674.50 705.5V699.9M676.50 705.5V701.1M679.50 705.5V701.3M682.50 705.5V701.6M685.50 705.5V702.5M688.50 705.5V704.2M691.50 705.5V705.2M696.50 705.5V705.3M708.50 705.5V700.8M711.50 705.5V701.8M714.50 705.5V702.3M717.50 705.5V703.2M719.50 705.5V704.1M722.50 705.5V705.0M742.50 705.5V704.6M851.50 705.5V703.7M854.50 705.5V704.6M863.50 705.5V703.6M866.50 705.5V703.9M872.50 705.5V704.3M874.50 705.5V704.4M895.50 705.5V698.9M897.50 705.5V699.7M900.50 705.5V700.5M903.50 705.5V702.0M906.50 705.5V703.3M909.50 705.5V704.7M981.50 705.5V703.1M984.50 705.5V704.5M986.50 705.5V705.4M1070.50 705.5V700.2M1073.50 705.5V700.7M1078.50 705.5V700.9M1081.50 705.5V701.1M1084.50 705.5V702.1M1087.50 705.5V702.9M1090.50 705.5V703.7M1093.50 705.5V705.5M1136.50 705.5V698.5M1139.50 705.5V699.2M1141.50 705.5V700.8M1199.50 705.5V703.2M1202.50 705.5V704.8M1205.50 705.5V705.1M1294.50 705.5V701.6M1305.50 705.5V699.2M1308.50 705.5V700.1M1311.50 705.5V700.2M1314.50 705.5V700.3M1325.50 705.5V700.6M1328.50 705.5V701.4M1331.50 705.5V702.9M1334.50 705.5V704.6M1337.50 705.5V705.1M1357.50 705.5V704.1M1360.50 705.5V704.1M1362.50 705.5V704.3M1365.50 705.5V704.3M1374.50 705.5V704.1M1380.50 705.5V703.8M1400.50 705.5V700.7M1403.50 705.5V701.7M1405.50 705.5V702.7M1408.50 705.5V703.6M1411.50 705.5V704.1M1414.50 705.5V704.2M1426.50 705.5V701.5M1428.50 705.5V702.1M1431.50 705.5V703.3M1434.50 705.5V704.7" stroke="#b2dfdb" stroke-width="1" fill="none"/><path d="M10.50 705.5V706.5M13.50 705.5V705.7M79.50 705.5V708.4M82.50 705.5V708.2M85.50 705.5V707.7M88.50 705.5V707.6M91.50 705.5V707.5M99.50 705.5V707.6M102.50 705.5V706.8M105.50 705.5V706.3M145.50 705.5V705.9M171.50 705.5V707.3M240.50 705.5V709.0M254.50 705.5V710.1M260.50 705.5V709.4M263.50 705.5V708.8M266.50 705.5V708.0M275.50 705.5V709.3M277.50 705.5V709.1M280.50 705.5V708.4M283.50 705.5V708.1M286.50 705.5V706.7M312.50 705.5V713.3M315.50 705.5V711.6M323.50 705.5V712.1M332.50 705.5V711.9M335.50 705.5V710.8M338.50 705.5V708.9M341.50 705.5V706.9M343.50 705.5V705.6M366.50 705.5V707.6M369.50 705.5V707.5M372.50 705.5V706.4M415.50 705.5V706.0M418.50 705.5V705.6M430.50 705.5V709.4M441.50 705.5V711.9M444.50 705.5V711.6M447.50 705.5V711.1M450.50 705.5V710.1M452.50 705.5V709.9M455.50 705.5V708.6M458.50 705.5V708.2M461.50 705.5V707.3M464.50 705.5V706.6M475.50 705.5V706.3M504.50 705.5V713.2M507.50 705.5V708.5M513.50 705.5V708.1M516.50 705.5V706.0M533.50 705.5V709.2M536.50 705.5V707.9M539.50 705.5V707.9M541.50 705.5V706.4M616.50 705.5V707.4M619.50 705.5V707.2M768.50 705.5V711.8M771.50 705.5V711.5M774.50 705.5V711.3M783.50 705.5V711.9M785.50 705.5V710.7M788.50 705.5V709.7M791.50 705.5V707.0M811.50 705.5V707.5M831.50 705.5V708.8M834.50 705.5V707.3M837.50 705.5V705.8M929.50 705.5V707.6M949.50 705.5V712.2M952.50 705.5V711.4M955.50 705.5V711.1M958.50 705.5V710.3M961.50 705.5V708.5M963.50 705.5V707.6M966.50 705.5V707.0M1004.50 705.5V708.9M1007.50 705.5V708.4M1015.50 705.5V710.3M1018.50 705.5V710.2M1021.50 705.5V709.3M1032.50 705.5V709.8M1035.50 705.5V708.1M1038.50 705.5V706.7M1041.50 705.5V706.0M1044.50 705.5V705.5M1110.50 705.5V709.1M1113.50 705.5V707.2M1116.50 705.5V706.0M1167.50 705.5V715.7M1170.50 705.5V714.5M1173.50 705.5V712.3M1176.50 705.5V711.5M1179.50 705.5V711.0M1182.50 705.5V709.2M1184.50 705.5V707.4M1187.50 705.5V705.8M1225.50 705.5V710.6M1228.50 705.5V710.3M1230.50 705.5V708.7M1233.50 705.5V706.9M1236.50 705.5V706.8M1256.50 705.5V711.9M1259.50 705.5V711.7M1271.50 705.5V712.4M1273.50 705.5V710.1M1276.50 705.5V708.5M1279.50 705.5V705.7M1345.50 705.5V705.8M1454.50 705.5V710.4M1457.50 705.5V709.5M1460.50 705.5V708.7M1474.50 705.5V715.1M1486.50 705.5V719.1M1489.50 705.5V717.7M1492.50 705.5V715.5M1494.50 705.5V714.1M1497.50 705.5V712.8M1500.50 705.5V711.7M1503.50 705.5V710.7M1506.50 705.5V708.3M1509.50 705.5V706.0" stroke="#ffcdd2" stroke-width="1" fill="none"/><path d="M71.50 705.5V706.1M74.50 705.5V707.6M76.50 705.5V708.5M94.50 705.5V708.0M97.50 705.5V708.4M142.50 705.5V705.9M165.50 705.5V706.3M168.50 705.5V707.3M231.50 705.5V708.1M234.50 705.5V708.6M237.50 705.5V709.2M243.50 705.5V709.5M246.50 705.5V709.6M249.50 705.5V710.4M252.50 705.5V710.9M257.50 705.5V710.4M269.50 705.5V709.3M272.50 705.5V710.5M295.50 705.5V707.0M297.50 705.5V709.7M300.50 705.5V711.6M303.50 705.5V713.5M306.50 705.5V714.6M309.50 705.5V715.0M318.50 705.5V711.8M320.50 705.5V712.4M326.50 705.5V712.3M329.50 705.5V712.4M358.50 705.5V707.2M361.50 705.5V707.5M364.50 705.5V707.6M412.50 705.5V706.1M421.50 705.5V706.4M424.50 705.5V707.8M427.50 705.5V709.8M432.50 705.5V710.5M435.50 705.5V711.5M438.50 705.5V711.9M467.50 705.5V706.7M470.50 705.5V706.8M473.50 705.5V706.8M490.50 705.5V707.2M493.50 705.5V709.5M496.50 705.5V712.6M498.50 705.5V713.9M501.50 705.5V714.3M510.50 705.5V708.8M524.50 705.5V705.6M527.50 705.5V708.0M530.50 705.5V710.2M608.50 705.5V707.0M610.50 705.5V707.9M613.50 705.5V709.4M725.50 705.5V706.0M731.50 705.5V705.6M745.50 705.5V705.5M748.50 705.5V705.9M751.50 705.5V706.2M754.50 705.5V706.7M757.50 705.5V707.8M760.50 705.5V709.4M763.50 705.5V711.2M765.50 705.5V712.0M777.50 705.5V711.4M780.50 705.5V712.6M800.50 705.5V706.2M803.50 705.5V706.9M806.50 705.5V707.6M808.50 705.5V707.9M814.50 705.5V708.2M817.50 705.5V708.4M820.50 705.5V708.5M823.50 705.5V709.1M826.50 705.5V709.8M829.50 705.5V710.5M912.50 705.5V705.7M918.50 705.5V706.0M920.50 705.5V706.6M923.50 705.5V707.5M926.50 705.5V707.9M932.50 705.5V708.1M935.50 705.5V708.5M938.50 705.5V708.7M940.50 705.5V709.7M943.50 705.5V711.3M946.50 705.5V712.4M989.50 705.5V706.1M992.50 705.5V707.0M995.50 705.5V709.0M998.50 705.5V709.5M1001.50 705.5V710.5M1009.50 705.5V708.8M1012.50 705.5V710.3M1024.50 705.5V710.3M1027.50 705.5V710.5M1029.50 705.5V710.5M1095.50 705.5V706.9M1098.50 705.5V707.2M1101.50 705.5V709.2M1104.50 705.5V710.0M1107.50 705.5V710.2M1144.50 705.5V705.7M1147.50 705.5V710.0M1150.50 705.5V710.6M1153.50 705.5V710.8M1156.50 705.5V711.7M1159.50 705.5V712.9M1162.50 705.5V714.5M1164.50 705.5V715.7M1213.50 705.5V706.4M1216.50 705.5V709.4M1219.50 705.5V709.9M1222.50 705.5V711.1M1239.50 705.5V707.1M1242.50 705.5V707.9M1245.50 705.5V710.3M1248.50 705.5V711.1M1250.50 705.5V711.6M1253.50 705.5V712.3M1262.50 705.5V713.1M1265.50 705.5V714.0M1268.50 705.5V714.0M1339.50 705.5V706.0M1342.50 705.5V706.7M1437.50 705.5V707.4M1440.50 705.5V708.7M1443.50 705.5V709.3M1446.50 705.5V709.5M1449.50 705.5V709.7M1451.50 705.5V710.7M1463.50 705.5V710.0M1466.50 705.5V710.7M1469.50 705.5V713.3M1472.50 705.5V715.2M1477.50 705.5V715.6M1480.50 705.5V716.4M1483.50 705.5V720.8" stroke="#ff5252" stroke-width="1" fill="none"/>
<polyline points="10.50,714.31 13.50,713.54 16.50,712.41 19.50,710.17 22.50,708.63 25.50,707.86 28.50,707.72 31.50,706.46 33.50,704.71 36.50,702.71 39.50,701.01 42.50,699.68 45.50,698.54 48.50,697.89 51.50,696.93 54.50,696.92 56.50,695.89 59.50,694.87 62.50,694.14 65.50,693.85 68.50,694.99 71.50,697.34 74.50,699.38 76.50,701.00 79.50,701.56 82.50,702.05 85.50,702.10 88.50,702.50 91.50,702.90 94.50,704.04 97.50,705.12 99.50,704.84 102.50,704.36 105.50,704.06 108.50,702.12 111.50,700.11 114.50,698.27 117.50,697.03 120.50,695.61 122.50,694.61 125.50,693.64 128.50,693.86 131.50,694.17 134.50,694.91 137.50,694.82 140.50,695.72 142.50,696.32 145.50,696.42 148.50,695.53 151.50,693.45 154.50,692.17 157.50,692.44 160.50,693.18 163.50,694.00 165.50,695.10 168.50,696.56 171.50,696.95 174.50,694.04 177.50,691.73 180.50,689.75 183.50,688.28 186.50,685.34 188.50,678.84 191.50,674.47 194.50,670.07 197.50,668.68 200.50,665.98 203.50,664.58 206.50,664.38 209.50,664.32 211.50,663.77 214.50,662.76 217.50,660.31 220.50,658.58 223.50,658.41 226.50,658.65 229.50,662.04 231.50,665.78 234.50,667.03 237.50,668.61 240.50,669.25 243.50,670.75 246.50,671.89 249.50,673.87 252.50,675.72 254.50,676.07 257.50,677.59 260.50,677.55 263.50,677.83 266.50,677.67 269.50,679.90 272.50,682.36 275.50,682.10 277.50,682.80 280.50,682.86 283.50,683.16 286.50,682.10 289.50,680.58 292.50,679.67 295.50,682.41 297.50,686.26 300.50,689.65 303.50,693.56 306.50,696.92 309.50,699.76 312.50,699.91 315.50,699.71 318.50,701.55 320.50,703.89 323.50,705.21 326.50,707.10 329.50,708.99 332.50,710.01 335.50,710.32 338.50,709.18 341.50,707.60 343.50,706.29 346.50,705.19 349.50,702.26 352.50,702.82 355.50,704.32 358.50,706.83 361.50,707.62 364.50,708.26 366.50,708.78 369.50,709.16 372.50,708.34 375.50,705.53 378.50,703.65 381.50,699.95 384.50,696.95 386.50,696.36 389.50,695.63 392.50,692.97 395.50,692.37 398.50,692.00 401.50,691.27 404.50,690.92 407.50,691.93 409.50,693.14 412.50,694.66 415.50,694.70 418.50,694.31 421.50,695.36 424.50,697.27 427.50,700.40 430.50,700.94 432.50,703.28 435.50,705.84 438.50,707.83 441.50,709.43 444.50,710.63 447.50,711.57 450.50,711.70 452.50,712.59 455.50,712.08 458.50,712.30 461.50,711.92 464.50,711.49 467.50,711.89 470.50,712.28 473.50,712.68 475.50,712.32 478.50,711.05 481.50,711.12 484.50,710.89 487.50,710.81 490.50,713.26 493.50,716.58 496.50,721.41 498.50,724.80 501.50,727.39 504.50,728.32 507.50,724.35 510.50,725.41 513.50,725.42 516.50,723.39 519.50,721.97 521.50,722.32 524.50,722.73 527.50,725.79 530.50,729.14 533.50,729.13 536.50,728.44 539.50,729.02 541.50,727.71 544.50,726.22 547.50,725.72 550.50,724.35 553.50,723.76 556.50,720.84 559.50,719.83 562.50,718.92 564.50,718.22 567.50,716.29 570.50,713.91 573.50,712.01 576.50,710.71 579.50,709.47 582.50,709.95 585.50,711.24 587.50,712.34 590.50,713.02 593.50,712.02 596.50,712.61 599.50,712.67 602.50,712.26 605.50,712.03 608.50,714.49 610.50,715.95 613.50,718.46 616.50,716.92 619.50,717.19 622.50,715.23 625.50,712.57 628.50,711.26 630.50,709.74 633.50,708.98 636.50,708.14 639.50,706.96 642.50,706.29 645.50,705.44 648.50,704.72 651.50,702.88 653.50,698.31 656.50,694.66 659.50,691.81 662.50,689.36 665.50,687.63 668.50,686.90 671.50,685.90 674.50,685.72 676.50,685.85 679.50,684.95 682.50,684.26 685.50,684.50 688.50,685.78 691.50,686.80 694.50,686.69 696.50,686.70 699.50,683.62 702.50,681.61 705.50,679.40 708.50,678.24 711.50,678.33 714.50,678.02 717.50,678.40 719.50,678.91 722.50,679.72 725.50,680.86 728.50,680.21 731.50,680.48 734.50,680.33 737.50,678.95 740.50,677.10 742.50,678.33 745.50,679.28 748.50,679.74 751.50,680.17 754.50,681.07 757.50,682.64 760.50,685.31 763.50,688.54 765.50,690.89 768.50,692.30 771.50,693.51 774.50,694.81 777.50,696.32 780.50,699.32 783.50,700.24 785.50,700.33 788.50,700.41 791.50,698.07 794.50,696.37 797.50,695.95 800.50,697.22 803.50,698.26 806.50,699.48 808.50,700.39 811.50,700.53 814.50,701.86 817.50,702.79 820.50,703.71 823.50,705.15 826.50,706.92 829.50,708.93 831.50,708.06 834.50,707.03 837.50,705.51 840.50,704.48 843.50,703.63 846.50,702.88 849.50,701.74 851.50,701.58 854.50,702.24 857.50,701.15 860.50,699.91 863.50,699.86 866.50,699.78 869.50,699.24 872.50,699.38 874.50,699.23 877.50,697.91 880.50,694.49 883.50,691.09 886.50,688.65 889.50,686.01 892.50,683.80 895.50,683.43 897.50,682.81 900.50,682.31 903.50,682.93 906.50,683.68 909.50,684.83 912.50,685.92 915.50,685.65 918.50,686.37 920.50,687.25 923.50,688.58 926.50,689.66 929.50,689.88 932.50,690.98 935.50,692.11 938.50,693.15 940.50,695.18 943.50,698.22 946.50,701.11 949.50,702.52 952.50,703.23 955.50,704.29 958.50,704.65 961.50,703.61 963.50,703.25 966.50,703.09 969.50,701.50 972.50,700.62 975.50,699.19 978.50,696.48 981.50,697.08 984.50,698.18 986.50,699.07 989.50,699.90 992.50,701.25 995.50,704.12 998.50,705.64 1001.50,707.78 1004.50,707.09 1007.50,707.33 1009.50,708.51 1012.50,711.22 1015.50,712.37 1018.50,713.46 1021.50,713.53 1024.50,715.73 1027.50,717.13 1029.50,718.42 1032.50,718.74 1035.50,717.77 1038.50,716.61 1041.50,716.11 1044.50,715.59 1047.50,715.34 1050.50,714.55 1052.50,713.29 1055.50,712.54 1058.50,710.59 1061.50,708.14 1064.50,705.88 1067.50,704.21 1070.50,703.23 1073.50,702.49 1075.50,701.15 1078.50,700.36 1081.50,699.42 1084.50,699.56 1087.50,699.68 1090.50,700.11 1093.50,701.85 1095.50,703.62 1098.50,704.34 1101.50,707.21 1104.50,709.12 1107.50,710.53 1110.50,710.28 1113.50,708.81 1116.50,707.83 1118.50,704.58 1121.50,701.03 1124.50,697.34 1127.50,694.48 1130.50,691.78 1133.50,689.13 1136.50,689.05 1139.50,688.17 1141.50,688.58 1144.50,693.58 1147.50,699.03 1150.50,700.91 1153.50,702.39 1156.50,704.80 1159.50,707.94 1162.50,711.70 1164.50,715.54 1167.50,718.01 1170.50,719.05 1173.50,718.64 1176.50,719.35 1179.50,720.17 1182.50,719.31 1184.50,718.00 1187.50,716.51 1190.50,713.67 1193.50,711.56 1196.50,710.48 1199.50,711.13 1202.50,712.48 1205.50,712.77 1207.50,712.64 1210.50,712.20 1213.50,713.96 1216.50,717.92 1219.50,719.59 1222.50,722.14 1225.50,722.87 1228.50,723.78 1230.50,723.01 1233.50,721.50 1236.50,721.75 1239.50,722.45 1242.50,723.87 1245.50,727.50 1248.50,729.62 1250.50,731.69 1253.50,734.09 1256.50,735.27 1259.50,736.60 1262.50,739.91 1265.50,742.91 1268.50,745.05 1271.50,745.15 1273.50,743.98 1276.50,743.16 1279.50,740.37 1282.50,737.37 1285.50,734.86 1288.50,732.62 1291.50,730.76 1294.50,731.22 1296.50,728.60 1299.50,725.17 1302.50,722.95 1305.50,722.46 1308.50,721.93 1311.50,720.75 1314.50,719.53 1317.50,717.30 1319.50,715.80 1322.50,714.23 1325.50,714.08 1328.50,713.86 1331.50,714.72 1334.50,716.25 1337.50,716.58 1339.50,717.61 1342.50,718.61 1345.50,717.85 1348.50,717.01 1351.50,716.06 1354.50,715.19 1357.50,715.05 1360.50,714.72 1362.50,714.57 1365.50,714.29 1368.50,713.71 1371.50,713.16 1374.50,713.01 1377.50,712.12 1380.50,711.77 1383.50,710.73 1385.50,708.95 1388.50,707.46 1391.50,705.79 1394.50,703.31 1397.50,701.49 1400.50,701.34 1403.50,701.38 1405.50,701.61 1408.50,702.06 1411.50,702.18 1414.50,702.04 1417.50,699.89 1420.50,697.41 1423.50,696.37 1426.50,695.60 1428.50,695.27 1431.50,695.93 1434.50,697.14 1437.50,700.27 1440.50,702.41 1443.50,703.96 1446.50,705.19 1449.50,706.38 1451.50,708.74 1454.50,709.61 1457.50,709.69 1460.50,709.73 1463.50,712.20 1466.50,714.19 1469.50,718.73 1472.50,723.04 1474.50,725.31 1477.50,728.35 1480.50,731.87 1483.50,740.15 1486.50,741.86 1489.50,743.54 1492.50,743.83 1494.50,744.61 1497.50,745.07 1500.50,745.51 1503.50,745.83 1506.50,744.15 1509.50,741.94 1512.50,740.25 1515.50,738.76" fill="none" stroke="#2962ff" stroke-width="1.15"/><polyline points="10.50,713.26 13.50,713.32 16.50,713.14 19.50,712.54 22.50,711.76 25.50,710.98 28.50,710.33 31.50,709.55 33.50,708.58 36.50,707.41 39.50,706.13 42.50,704.84 45.50,703.58 48.50,702.44 51.50,701.34 54.50,700.46 56.50,699.54 59.50,698.61 62.50,697.71 65.50,696.94 68.50,696.55 71.50,696.71 74.50,697.24 76.50,697.99 79.50,698.71 82.50,699.38 85.50,699.92 88.50,700.44 91.50,700.93 94.50,701.55 97.50,702.27 99.50,702.78 102.50,703.10 105.50,703.29 108.50,703.06 111.50,702.47 114.50,701.63 117.50,700.71 120.50,699.69 122.50,698.67 125.50,697.67 128.50,696.90 131.50,696.36 134.50,696.07 137.50,695.82 140.50,695.80 142.50,695.90 145.50,696.00 148.50,695.91 151.50,695.42 154.50,694.77 157.50,694.30 160.50,694.08 163.50,694.06 165.50,694.27 168.50,694.73 171.50,695.17 174.50,694.94 177.50,694.30 180.50,693.39 183.50,692.37 186.50,690.96 188.50,688.54 191.50,685.73 194.50,682.59 197.50,679.81 200.50,677.04 203.50,674.55 206.50,672.52 209.50,670.88 211.50,669.46 214.50,668.12 217.50,666.55 220.50,664.96 223.50,663.65 226.50,662.65 229.50,662.53 231.50,663.18 234.50,663.95 237.50,664.88 240.50,665.75 243.50,666.75 246.50,667.78 249.50,669.00 252.50,670.34 254.50,671.49 257.50,672.71 260.50,673.68 263.50,674.51 266.50,675.14 269.50,676.09 272.50,677.35 275.50,678.30 277.50,679.20 280.50,679.93 283.50,680.58 286.50,680.88 289.50,680.82 292.50,680.59 295.50,680.95 297.50,682.01 300.50,683.54 303.50,685.55 306.50,687.82 309.50,690.21 312.50,692.15 315.50,693.66 318.50,695.24 320.50,696.97 323.50,698.62 326.50,700.32 329.50,702.05 332.50,703.64 335.50,704.98 338.50,705.82 341.50,706.18 343.50,706.20 346.50,706.00 349.50,705.25 352.50,704.76 355.50,704.67 358.50,705.11 361.50,705.61 364.50,706.14 366.50,706.67 369.50,707.16 372.50,707.40 375.50,707.03 378.50,706.35 381.50,705.07 384.50,703.45 386.50,702.03 389.50,700.75 392.50,699.19 395.50,697.83 398.50,696.66 401.50,695.59 404.50,694.65 407.50,694.11 409.50,693.92 412.50,694.07 415.50,694.19 418.50,694.21 421.50,694.44 424.50,695.01 427.50,696.09 430.50,697.06 432.50,698.30 435.50,699.81 438.50,701.41 441.50,703.02 444.50,704.54 447.50,705.94 450.50,707.10 452.50,708.19 455.50,708.97 458.50,709.64 461.50,710.09 464.50,710.37 467.50,710.67 470.50,711.00 473.50,711.33 475.50,711.53 478.50,711.44 481.50,711.37 484.50,711.28 487.50,711.18 490.50,711.60 493.50,712.59 496.50,714.36 498.50,716.45 501.50,718.63 504.50,720.57 507.50,721.33 510.50,722.14 513.50,722.80 516.50,722.92 519.50,722.73 521.50,722.65 524.50,722.66 527.50,723.29 530.50,724.46 533.50,725.39 536.50,726.00 539.50,726.60 541.50,726.83 544.50,726.70 547.50,726.51 550.50,726.08 553.50,725.61 556.50,724.66 559.50,723.69 562.50,722.74 564.50,721.83 567.50,720.73 570.50,719.36 573.50,717.89 576.50,716.45 579.50,715.06 582.50,714.03 585.50,713.48 587.50,713.25 590.50,713.20 593.50,712.97 596.50,712.90 599.50,712.85 602.50,712.73 605.50,712.59 608.50,712.97 610.50,713.57 613.50,714.55 616.50,715.02 619.50,715.45 622.50,715.41 625.50,714.84 628.50,714.12 630.50,713.25 633.50,712.40 636.50,711.54 639.50,710.63 642.50,709.76 645.50,708.90 648.50,708.06 651.50,707.02 653.50,705.28 656.50,703.16 659.50,700.89 662.50,698.58 665.50,696.39 668.50,694.49 671.50,692.77 674.50,691.36 676.50,690.26 679.50,689.20 682.50,688.21 685.50,687.47 688.50,687.13 691.50,687.07 694.50,686.99 696.50,686.93 699.50,686.27 702.50,685.34 705.50,684.15 708.50,682.97 711.50,682.04 714.50,681.24 717.50,680.67 719.50,680.32 722.50,680.20 725.50,680.33 728.50,680.31 731.50,680.34 734.50,680.34 737.50,680.06 740.50,679.47 742.50,679.24 745.50,679.25 748.50,679.35 751.50,679.51 754.50,679.82 757.50,680.39 760.50,681.37 763.50,682.81 765.50,684.42 768.50,686.00 771.50,687.50 774.50,688.96 777.50,690.43 780.50,692.21 783.50,693.82 785.50,695.12 788.50,696.18 791.50,696.56 794.50,696.52 797.50,696.40 800.50,696.57 803.50,696.91 806.50,697.42 808.50,698.01 811.50,698.52 814.50,699.19 817.50,699.91 820.50,700.67 823.50,701.56 826.50,702.63 829.50,703.89 831.50,704.73 834.50,705.19 837.50,705.25 840.50,705.10 843.50,704.80 846.50,704.42 849.50,703.88 851.50,703.42 854.50,703.19 857.50,702.78 860.50,702.20 863.50,701.73 866.50,701.34 869.50,700.92 872.50,700.61 874.50,700.34 877.50,699.85 880.50,698.78 883.50,697.24 886.50,695.52 889.50,693.62 892.50,691.66 895.50,690.01 897.50,688.57 900.50,687.32 903.50,686.44 906.50,685.89 909.50,685.68 912.50,685.72 915.50,685.71 918.50,685.84 920.50,686.12 923.50,686.62 926.50,687.22 929.50,687.76 932.50,688.40 935.50,689.14 938.50,689.94 940.50,690.99 943.50,692.44 946.50,694.17 949.50,695.84 952.50,697.32 955.50,698.71 958.50,699.90 961.50,700.64 963.50,701.16 966.50,701.55 969.50,701.54 972.50,701.36 975.50,700.92 978.50,700.03 981.50,699.44 984.50,699.19 986.50,699.17 989.50,699.31 992.50,699.70 995.50,700.58 998.50,701.59 1001.50,702.83 1004.50,703.68 1007.50,704.41 1009.50,705.23 1012.50,706.43 1015.50,707.62 1018.50,708.79 1021.50,709.74 1024.50,710.94 1027.50,712.17 1029.50,713.42 1032.50,714.49 1035.50,715.14 1038.50,715.44 1041.50,715.57 1044.50,715.58 1047.50,715.53 1050.50,715.33 1052.50,714.92 1055.50,714.45 1058.50,713.67 1061.50,712.57 1064.50,711.23 1067.50,709.83 1070.50,708.51 1073.50,707.30 1075.50,706.07 1078.50,704.93 1081.50,703.83 1084.50,702.97 1087.50,702.32 1090.50,701.88 1093.50,701.87 1095.50,702.22 1098.50,702.64 1101.50,703.56 1104.50,704.67 1107.50,705.84 1110.50,706.73 1113.50,707.15 1116.50,707.28 1118.50,706.74 1121.50,705.60 1124.50,703.95 1127.50,702.05 1130.50,700.00 1133.50,697.83 1136.50,696.07 1139.50,694.49 1141.50,693.31 1144.50,693.36 1147.50,694.50 1150.50,695.78 1153.50,697.10 1156.50,698.64 1159.50,700.50 1162.50,702.74 1164.50,705.30 1167.50,707.84 1170.50,710.08 1173.50,711.79 1176.50,713.30 1179.50,714.68 1182.50,715.60 1184.50,716.08 1187.50,716.17 1190.50,715.67 1193.50,714.85 1196.50,713.97 1199.50,713.41 1202.50,713.22 1205.50,713.13 1207.50,713.03 1210.50,712.87 1213.50,713.08 1216.50,714.05 1219.50,715.16 1222.50,716.56 1225.50,717.82 1228.50,719.01 1230.50,719.81 1233.50,720.15 1236.50,720.47 1239.50,720.86 1242.50,721.46 1245.50,722.67 1248.50,724.06 1250.50,725.59 1253.50,727.29 1256.50,728.88 1259.50,730.43 1262.50,732.32 1265.50,734.44 1268.50,736.56 1271.50,738.28 1273.50,739.42 1276.50,740.17 1279.50,740.21 1282.50,739.64 1285.50,738.68 1288.50,737.47 1291.50,736.13 1294.50,735.15 1296.50,733.84 1299.50,732.11 1302.50,730.28 1305.50,728.71 1308.50,727.36 1311.50,726.03 1314.50,724.73 1317.50,723.25 1319.50,721.76 1322.50,720.25 1325.50,719.02 1328.50,717.99 1331.50,717.33 1334.50,717.12 1337.50,717.01 1339.50,717.13 1342.50,717.43 1345.50,717.51 1348.50,717.41 1351.50,717.14 1354.50,716.75 1357.50,716.41 1360.50,716.07 1362.50,715.77 1365.50,715.47 1368.50,715.12 1371.50,714.73 1374.50,714.39 1377.50,713.93 1380.50,713.50 1383.50,712.95 1385.50,712.15 1388.50,711.21 1391.50,710.13 1394.50,708.76 1397.50,707.31 1400.50,706.11 1403.50,705.17 1405.50,704.46 1408.50,703.98 1411.50,703.62 1414.50,703.30 1417.50,702.62 1420.50,701.58 1423.50,700.54 1426.50,699.55 1428.50,698.69 1431.50,698.14 1434.50,697.94 1437.50,698.41 1440.50,699.21 1443.50,700.16 1446.50,701.17 1449.50,702.21 1451.50,703.51 1454.50,704.73 1457.50,705.73 1460.50,706.53 1463.50,707.66 1466.50,708.97 1469.50,710.92 1472.50,713.34 1474.50,715.74 1477.50,718.26 1480.50,720.98 1483.50,724.82 1486.50,728.23 1489.50,731.29 1492.50,733.80 1494.50,735.96 1497.50,737.78 1500.50,739.33 1503.50,740.63 1506.50,741.33 1509.50,741.45 1512.50,741.21 1515.50,740.72" fill="none" stroke="#ff6d00" stroke-width="1.15"/>
</g>
<!-- rsi pane -->
<rect x="11" y="779.5" width="1729" height="50" fill="rgba(126,87,194,0.12)"/>
<g stroke="#787b86" stroke-width="1" stroke-dasharray="5 6" opacity="0.8">
<line x1="11" y1="779.5" x2="1740" y2="779.5"/>
<line x1="11" y1="804.5" x2="1740" y2="804.5"/>
<line x1="11" y1="829.5" x2="1740" y2="829.5"/>
</g>
<g clip-path="url(#cr)">
<linearGradient id="gob" gradientUnits="userSpaceOnUse" x1="0" y1="761.1" x2="0" y2="779.7"><stop offset="0" stop-color="#4caf50" stop-opacity="0.45"/><stop offset="1" stop-color="#4caf50" stop-opacity="0.08"/></linearGradient><linearGradient id="gos" gradientUnits="userSpaceOnUse" x1="0" y1="847.9" x2="0" y2="829.3"><stop offset="0" stop-color="#f0457a" stop-opacity="0.35"/><stop offset="1" stop-color="#ff5252" stop-opacity="0.08"/></linearGradient><path d="M10.50,779.70 L13.50,779.70 L16.50,779.70 L19.50,779.70 L22.50,779.70 L25.50,779.70 L28.50,779.70 L31.50,779.70 L33.50,779.70 L36.50,779.70 L39.50,779.70 L42.50,779.70 L45.50,779.70 L48.50,779.70 L51.50,779.70 L54.50,779.70 L56.50,779.70 L59.50,779.70 L62.50,779.70 L65.50,779.70 L68.50,779.70 L71.50,779.70 L74.50,779.70 L76.50,779.70 L79.50,779.70 L82.50,779.70 L85.50,779.70 L88.50,779.70 L91.50,779.70 L94.50,779.70 L97.50,779.70 L99.50,779.70 L102.50,779.70 L105.50,779.70 L108.50,779.70 L111.50,779.70 L114.50,779.70 L117.50,779.70 L120.50,779.70 L122.50,779.70 L125.50,778.51 L128.50,779.70 L131.50,779.70 L134.50,779.70 L137.50,779.70 L140.50,779.70 L142.50,779.70 L145.50,779.70 L148.50,779.70 L151.50,777.05 L154.50,779.48 L157.50,779.70 L160.50,779.70 L163.50,779.70 L165.50,779.70 L168.50,779.70 L171.50,779.70 L174.50,779.34 L177.50,778.75 L180.50,777.53 L183.50,777.11 L186.50,770.47 L188.50,761.61 L191.50,764.95 L194.50,762.78 L197.50,774.65 L200.50,770.43 L203.50,772.18 L206.50,775.06 L209.50,774.15 L211.50,771.88 L214.50,769.55 L217.50,765.61 L220.50,765.08 L223.50,769.87 L226.50,769.52 L229.50,779.70 L231.50,779.70 L234.50,779.70 L237.50,779.70 L240.50,779.70 L243.50,779.70 L246.50,779.70 L249.50,779.70 L252.50,779.70 L254.50,779.70 L257.50,779.70 L260.50,779.70 L263.50,779.70 L266.50,779.70 L269.50,779.70 L272.50,779.70 L275.50,779.70 L277.50,779.70 L280.50,779.70 L283.50,779.70 L286.50,779.70 L289.50,779.70 L292.50,779.70 L295.50,779.70 L297.50,779.70 L300.50,779.70 L303.50,779.70 L306.50,779.70 L309.50,779.70 L312.50,779.70 L315.50,779.70 L318.50,779.70 L320.50,779.70 L323.50,779.70 L326.50,779.70 L329.50,779.70 L332.50,779.70 L335.50,779.70 L338.50,779.70 L341.50,779.70 L343.50,779.70 L346.50,779.70 L349.50,779.70 L352.50,779.70 L355.50,779.70 L358.50,779.70 L361.50,779.70 L364.50,779.70 L366.50,779.70 L369.50,779.70 L372.50,779.70 L375.50,779.70 L378.50,779.70 L381.50,779.70 L384.50,779.70 L386.50,779.70 L389.50,779.70 L392.50,779.70 L395.50,779.70 L398.50,779.70 L401.50,779.70 L404.50,779.70 L407.50,779.70 L409.50,779.70 L412.50,779.70 L415.50,779.70 L418.50,779.70 L421.50,779.70 L424.50,779.70 L427.50,779.70 L430.50,779.70 L432.50,779.70 L435.50,779.70 L438.50,779.70 L441.50,779.70 L444.50,779.70 L447.50,779.70 L450.50,779.70 L452.50,779.70 L455.50,779.70 L458.50,779.70 L461.50,779.70 L464.50,779.70 L467.50,779.70 L470.50,779.70 L473.50,779.70 L475.50,779.70 L478.50,779.70 L481.50,779.70 L484.50,779.70 L487.50,779.70 L490.50,779.70 L493.50,779.70 L496.50,779.70 L498.50,779.70 L501.50,779.70 L504.50,779.70 L507.50,779.70 L510.50,779.70 L513.50,779.70 L516.50,779.70 L519.50,779.70 L521.50,779.70 L524.50,779.70 L527.50,779.70 L530.50,779.70 L533.50,779.70 L536.50,779.70 L539.50,779.70 L541.50,779.70 L544.50,779.70 L547.50,779.70 L550.50,779.70 L553.50,779.70 L556.50,779.70 L559.50,779.70 L562.50,779.70 L564.50,779.70 L567.50,779.70 L570.50,779.70 L573.50,779.70 L576.50,779.70 L579.50,779.70 L582.50,779.70 L585.50,779.70 L587.50,779.70 L590.50,779.70 L593.50,779.70 L596.50,779.70 L599.50,779.70 L602.50,779.70 L605.50,779.70 L608.50,779.70 L610.50,779.70 L613.50,779.70 L616.50,779.70 L619.50,779.70 L622.50,779.70 L625.50,779.70 L628.50,779.70 L630.50,779.70 L633.50,779.70 L636.50,779.70 L639.50,779.70 L642.50,779.70 L645.50,779.70 L648.50,779.70 L651.50,779.70 L653.50,779.70 L656.50,779.70 L659.50,779.70 L662.50,779.70 L665.50,779.70 L668.50,779.70 L671.50,779.70 L674.50,779.70 L676.50,779.70 L679.50,779.70 L682.50,779.24 L685.50,779.70 L688.50,779.70 L691.50,779.70 L694.50,779.70 L696.50,779.70 L699.50,772.45 L702.50,773.82 L705.50,771.27 L708.50,773.66 L711.50,779.70 L714.50,777.30 L717.50,779.70 L719.50,779.70 L722.50,779.70 L725.50,779.70 L728.50,775.34 L731.50,779.70 L734.50,777.42 L737.50,772.17 L740.50,769.19 L742.50,779.70 L745.50,779.70 L748.50,779.70 L751.50,779.70 L754.50,779.70 L757.50,779.70 L760.50,779.70 L763.50,779.70 L765.50,779.70 L768.50,779.70 L771.50,779.70 L774.50,779.70 L777.50,779.70 L780.50,779.70 L783.50,779.70 L785.50,779.70 L788.50,779.70 L791.50,779.70 L794.50,779.70 L797.50,779.70 L800.50,779.70 L803.50,779.70 L806.50,779.70 L808.50,779.70 L811.50,779.70 L814.50,779.70 L817.50,779.70 L820.50,779.70 L823.50,779.70 L826.50,779.70 L829.50,779.70 L831.50,779.70 L834.50,779.70 L837.50,779.70 L840.50,779.70 L843.50,779.70 L846.50,779.70 L849.50,779.70 L851.50,779.70 L854.50,779.70 L857.50,779.70 L860.50,779.70 L863.50,779.70 L866.50,779.70 L869.50,779.70 L872.50,779.70 L874.50,779.70 L877.50,779.70 L880.50,778.51 L883.50,775.73 L886.50,776.20 L889.50,773.28 L892.50,772.15 L895.50,779.70 L897.50,779.70 L900.50,778.94 L903.50,779.70 L906.50,779.70 L909.50,779.70 L912.50,779.70 L915.50,779.70 L918.50,779.70 L920.50,779.70 L923.50,779.70 L926.50,779.70 L929.50,779.70 L932.50,779.70 L935.50,779.70 L938.50,779.70 L940.50,779.70 L943.50,779.70 L946.50,779.70 L949.50,779.70 L952.50,779.70 L955.50,779.70 L958.50,779.70 L961.50,779.70 L963.50,779.70 L966.50,779.70 L969.50,779.70 L972.50,779.70 L975.50,779.70 L978.50,779.70 L981.50,779.70 L984.50,779.70 L986.50,779.70 L989.50,779.70 L992.50,779.70 L995.50,779.70 L998.50,779.70 L1001.50,779.70 L1004.50,779.70 L1007.50,779.70 L1009.50,779.70 L1012.50,779.70 L1015.50,779.70 L1018.50,779.70 L1021.50,779.70 L1024.50,779.70 L1027.50,779.70 L1029.50,779.70 L1032.50,779.70 L1035.50,779.70 L1038.50,779.70 L1041.50,779.70 L1044.50,779.70 L1047.50,779.70 L1050.50,779.70 L1052.50,779.70 L1055.50,779.70 L1058.50,779.70 L1061.50,779.70 L1064.50,779.70 L1067.50,779.70 L1070.50,779.70 L1073.50,779.70 L1075.50,779.70 L1078.50,779.70 L1081.50,779.70 L1084.50,779.70 L1087.50,779.70 L1090.50,779.70 L1093.50,779.70 L1095.50,779.70 L1098.50,779.70 L1101.50,779.70 L1104.50,779.70 L1107.50,779.70 L1110.50,779.70 L1113.50,779.70 L1116.50,779.70 L1118.50,779.70 L1121.50,779.70 L1124.50,779.70 L1127.50,779.70 L1130.50,778.73 L1133.50,776.35 L1136.50,779.70 L1139.50,779.70 L1141.50,779.70 L1144.50,779.70 L1147.50,779.70 L1150.50,779.70 L1153.50,779.70 L1156.50,779.70 L1159.50,779.70 L1162.50,779.70 L1164.50,779.70 L1167.50,779.70 L1170.50,779.70 L1173.50,779.70 L1176.50,779.70 L1179.50,779.70 L1182.50,779.70 L1184.50,779.70 L1187.50,779.70 L1190.50,779.70 L1193.50,779.70 L1196.50,779.70 L1199.50,779.70 L1202.50,779.70 L1205.50,779.70 L1207.50,779.70 L1210.50,779.70 L1213.50,779.70 L1216.50,779.70 L1219.50,779.70 L1222.50,779.70 L1225.50,779.70 L1228.50,779.70 L1230.50,779.70 L1233.50,779.70 L1236.50,779.70 L1239.50,779.70 L1242.50,779.70 L1245.50,779.70 L1248.50,779.70 L1250.50,779.70 L1253.50,779.70 L1256.50,779.70 L1259.50,779.70 L1262.50,779.70 L1265.50,779.70 L1268.50,779.70 L1271.50,779.70 L1273.50,779.70 L1276.50,779.70 L1279.50,779.70 L1282.50,779.70 L1285.50,779.70 L1288.50,779.70 L1291.50,779.70 L1294.50,779.70 L1296.50,779.70 L1299.50,779.70 L1302.50,779.70 L1305.50,779.70 L1308.50,779.70 L1311.50,779.70 L1314.50,779.70 L1317.50,779.70 L1319.50,779.70 L1322.50,779.70 L1325.50,779.70 L1328.50,779.70 L1331.50,779.70 L1334.50,779.70 L1337.50,779.70 L1339.50,779.70 L1342.50,779.70 L1345.50,779.70 L1348.50,779.70 L1351.50,779.70 L1354.50,779.70 L1357.50,779.70 L1360.50,779.70 L1362.50,779.70 L1365.50,779.70 L1368.50,779.70 L1371.50,779.70 L1374.50,779.70 L1377.50,779.70 L1380.50,779.70 L1383.50,779.70 L1385.50,779.70 L1388.50,779.70 L1391.50,779.70 L1394.50,779.70 L1397.50,779.70 L1400.50,779.70 L1403.50,779.70 L1405.50,779.70 L1408.50,779.70 L1411.50,779.70 L1414.50,779.70 L1417.50,779.70 L1420.50,779.70 L1423.50,779.70 L1426.50,779.70 L1428.50,779.70 L1431.50,779.70 L1434.50,779.70 L1437.50,779.70 L1440.50,779.70 L1443.50,779.70 L1446.50,779.70 L1449.50,779.70 L1451.50,779.70 L1454.50,779.70 L1457.50,779.70 L1460.50,779.70 L1463.50,779.70 L1466.50,779.70 L1469.50,779.70 L1472.50,779.70 L1474.50,779.70 L1477.50,779.70 L1480.50,779.70 L1483.50,779.70 L1486.50,779.70 L1489.50,779.70 L1492.50,779.70 L1494.50,779.70 L1497.50,779.70 L1500.50,779.70 L1503.50,779.70 L1506.50,779.70 L1509.50,779.70 L1512.50,779.70 L1515.50,779.70 L1515.50,779.70 L10.50,779.70Z" fill="url(#gob)"/><path d="M10.50,829.30 L13.50,829.30 L16.50,829.30 L19.50,829.30 L22.50,829.30 L25.50,829.30 L28.50,829.30 L31.50,829.30 L33.50,829.30 L36.50,829.30 L39.50,829.30 L42.50,829.30 L45.50,829.30 L48.50,829.30 L51.50,829.30 L54.50,829.30 L56.50,829.30 L59.50,829.30 L62.50,829.30 L65.50,829.30 L68.50,829.30 L71.50,829.30 L74.50,829.30 L76.50,829.30 L79.50,829.30 L82.50,829.30 L85.50,829.30 L88.50,829.30 L91.50,829.30 L94.50,829.30 L97.50,829.30 L99.50,829.30 L102.50,829.30 L105.50,829.30 L108.50,829.30 L111.50,829.30 L114.50,829.30 L117.50,829.30 L120.50,829.30 L122.50,829.30 L125.50,829.30 L128.50,829.30 L131.50,829.30 L134.50,829.30 L137.50,829.30 L140.50,829.30 L142.50,829.30 L145.50,829.30 L148.50,829.30 L151.50,829.30 L154.50,829.30 L157.50,829.30 L160.50,829.30 L163.50,829.30 L165.50,829.30 L168.50,829.30 L171.50,829.30 L174.50,829.30 L177.50,829.30 L180.50,829.30 L183.50,829.30 L186.50,829.30 L188.50,829.30 L191.50,829.30 L194.50,829.30 L197.50,829.30 L200.50,829.30 L203.50,829.30 L206.50,829.30 L209.50,829.30 L211.50,829.30 L214.50,829.30 L217.50,829.30 L220.50,829.30 L223.50,829.30 L226.50,829.30 L229.50,829.30 L231.50,829.30 L234.50,829.30 L237.50,829.30 L240.50,829.30 L243.50,829.30 L246.50,829.30 L249.50,829.30 L252.50,829.30 L254.50,829.30 L257.50,829.30 L260.50,829.30 L263.50,829.30 L266.50,829.30 L269.50,829.30 L272.50,829.30 L275.50,829.30 L277.50,829.30 L280.50,829.30 L283.50,829.30 L286.50,829.30 L289.50,829.30 L292.50,829.30 L295.50,829.30 L297.50,829.30 L300.50,829.30 L303.50,829.30 L306.50,829.30 L309.50,829.30 L312.50,829.30 L315.50,829.30 L318.50,829.30 L320.50,829.30 L323.50,829.30 L326.50,829.30 L329.50,829.30 L332.50,829.30 L335.50,829.30 L338.50,829.30 L341.50,829.30 L343.50,829.30 L346.50,829.30 L349.50,829.30 L352.50,829.30 L355.50,829.30 L358.50,829.30 L361.50,829.30 L364.50,829.30 L366.50,829.30 L369.50,829.30 L372.50,829.30 L375.50,829.30 L378.50,829.30 L381.50,829.30 L384.50,829.30 L386.50,829.30 L389.50,829.30 L392.50,829.30 L395.50,829.30 L398.50,829.30 L401.50,829.30 L404.50,829.30 L407.50,829.30 L409.50,829.30 L412.50,829.30 L415.50,829.30 L418.50,829.30 L421.50,829.30 L424.50,829.30 L427.50,829.30 L430.50,829.30 L432.50,829.30 L435.50,829.30 L438.50,829.30 L441.50,829.30 L444.50,829.30 L447.50,829.30 L450.50,829.30 L452.50,829.30 L455.50,829.30 L458.50,829.30 L461.50,829.30 L464.50,829.30 L467.50,829.30 L470.50,829.30 L473.50,829.30 L475.50,829.30 L478.50,829.30 L481.50,829.30 L484.50,829.30 L487.50,829.30 L490.50,829.30 L493.50,829.30 L496.50,836.06 L498.50,834.42 L501.50,834.87 L504.50,829.30 L507.50,829.30 L510.50,829.30 L513.50,829.30 L516.50,829.30 L519.50,829.30 L521.50,829.30 L524.50,829.30 L527.50,829.30 L530.50,829.30 L533.50,829.30 L536.50,829.30 L539.50,829.30 L541.50,829.30 L544.50,829.30 L547.50,829.30 L550.50,829.30 L553.50,829.30 L556.50,829.30 L559.50,829.30 L562.50,829.30 L564.50,829.30 L567.50,829.30 L570.50,829.30 L573.50,829.30 L576.50,829.30 L579.50,829.30 L582.50,829.30 L585.50,829.30 L587.50,829.30 L590.50,829.30 L593.50,829.30 L596.50,829.30 L599.50,829.30 L602.50,829.30 L605.50,829.30 L608.50,829.30 L610.50,829.30 L613.50,829.30 L616.50,829.30 L619.50,829.30 L622.50,829.30 L625.50,829.30 L628.50,829.30 L630.50,829.30 L633.50,829.30 L636.50,829.30 L639.50,829.30 L642.50,829.30 L645.50,829.30 L648.50,829.30 L651.50,829.30 L653.50,829.30 L656.50,829.30 L659.50,829.30 L662.50,829.30 L665.50,829.30 L668.50,829.30 L671.50,829.30 L674.50,829.30 L676.50,829.30 L679.50,829.30 L682.50,829.30 L685.50,829.30 L688.50,829.30 L691.50,829.30 L694.50,829.30 L696.50,829.30 L699.50,829.30 L702.50,829.30 L705.50,829.30 L708.50,829.30 L711.50,829.30 L714.50,829.30 L717.50,829.30 L719.50,829.30 L722.50,829.30 L725.50,829.30 L728.50,829.30 L731.50,829.30 L734.50,829.30 L737.50,829.30 L740.50,829.30 L742.50,829.30 L745.50,829.30 L748.50,829.30 L751.50,829.30 L754.50,829.30 L757.50,829.30 L760.50,829.30 L763.50,829.30 L765.50,829.30 L768.50,829.30 L771.50,829.30 L774.50,829.30 L777.50,829.30 L780.50,829.30 L783.50,829.30 L785.50,829.30 L788.50,829.30 L791.50,829.30 L794.50,829.30 L797.50,829.30 L800.50,829.30 L803.50,829.30 L806.50,829.30 L808.50,829.30 L811.50,829.30 L814.50,829.30 L817.50,829.30 L820.50,829.30 L823.50,829.30 L826.50,829.30 L829.50,829.30 L831.50,829.30 L834.50,829.30 L837.50,829.30 L840.50,829.30 L843.50,829.30 L846.50,829.30 L849.50,829.30 L851.50,829.30 L854.50,829.30 L857.50,829.30 L860.50,829.30 L863.50,829.30 L866.50,829.30 L869.50,829.30 L872.50,829.30 L874.50,829.30 L877.50,829.30 L880.50,829.30 L883.50,829.30 L886.50,829.30 L889.50,829.30 L892.50,829.30 L895.50,829.30 L897.50,829.30 L900.50,829.30 L903.50,829.30 L906.50,829.30 L909.50,829.30 L912.50,829.30 L915.50,829.30 L918.50,829.30 L920.50,829.30 L923.50,829.30 L926.50,829.30 L929.50,829.30 L932.50,829.30 L935.50,829.30 L938.50,829.30 L940.50,829.30 L943.50,829.30 L946.50,829.30 L949.50,829.30 L952.50,829.30 L955.50,829.30 L958.50,829.30 L961.50,829.30 L963.50,829.30 L966.50,829.30 L969.50,829.30 L972.50,829.30 L975.50,829.30 L978.50,829.30 L981.50,829.30 L984.50,829.30 L986.50,829.30 L989.50,829.30 L992.50,829.30 L995.50,829.30 L998.50,829.30 L1001.50,829.30 L1004.50,829.30 L1007.50,829.30 L1009.50,829.30 L1012.50,829.30 L1015.50,829.30 L1018.50,829.30 L1021.50,829.30 L1024.50,829.30 L1027.50,829.30 L1029.50,829.30 L1032.50,829.30 L1035.50,829.30 L1038.50,829.30 L1041.50,829.30 L1044.50,829.30 L1047.50,829.30 L1050.50,829.30 L1052.50,829.30 L1055.50,829.30 L1058.50,829.30 L1061.50,829.30 L1064.50,829.30 L1067.50,829.30 L1070.50,829.30 L1073.50,829.30 L1075.50,829.30 L1078.50,829.30 L1081.50,829.30 L1084.50,829.30 L1087.50,829.30 L1090.50,829.30 L1093.50,829.30 L1095.50,829.30 L1098.50,829.30 L1101.50,829.30 L1104.50,829.30 L1107.50,829.30 L1110.50,829.30 L1113.50,829.30 L1116.50,829.30 L1118.50,829.30 L1121.50,829.30 L1124.50,829.30 L1127.50,829.30 L1130.50,829.30 L1133.50,829.30 L1136.50,829.30 L1139.50,829.30 L1141.50,829.30 L1144.50,829.30 L1147.50,829.30 L1150.50,829.30 L1153.50,829.30 L1156.50,829.30 L1159.50,829.30 L1162.50,829.30 L1164.50,829.30 L1167.50,829.30 L1170.50,829.30 L1173.50,829.30 L1176.50,829.30 L1179.50,829.30 L1182.50,829.30 L1184.50,829.30 L1187.50,829.30 L1190.50,829.30 L1193.50,829.30 L1196.50,829.30 L1199.50,829.30 L1202.50,829.30 L1205.50,829.30 L1207.50,829.30 L1210.50,829.30 L1213.50,829.30 L1216.50,829.30 L1219.50,829.30 L1222.50,829.30 L1225.50,829.30 L1228.50,829.30 L1230.50,829.30 L1233.50,829.30 L1236.50,829.30 L1239.50,829.30 L1242.50,829.30 L1245.50,829.30 L1248.50,829.30 L1250.50,829.30 L1253.50,830.82 L1256.50,829.30 L1259.50,830.54 L1262.50,836.44 L1265.50,837.98 L1268.50,838.40 L1271.50,831.12 L1273.50,829.30 L1276.50,829.30 L1279.50,829.30 L1282.50,829.30 L1285.50,829.30 L1288.50,829.30 L1291.50,829.30 L1294.50,829.30 L1296.50,829.30 L1299.50,829.30 L1302.50,829.30 L1305.50,829.30 L1308.50,829.30 L1311.50,829.30 L1314.50,829.30 L1317.50,829.30 L1319.50,829.30 L1322.50,829.30 L1325.50,829.30 L1328.50,829.30 L1331.50,829.30 L1334.50,829.30 L1337.50,829.30 L1339.50,829.30 L1342.50,829.30 L1345.50,829.30 L1348.50,829.30 L1351.50,829.30 L1354.50,829.30 L1357.50,829.30 L1360.50,829.30 L1362.50,829.30 L1365.50,829.30 L1368.50,829.30 L1371.50,829.30 L1374.50,829.30 L1377.50,829.30 L1380.50,829.30 L1383.50,829.30 L1385.50,829.30 L1388.50,829.30 L1391.50,829.30 L1394.50,829.30 L1397.50,829.30 L1400.50,829.30 L1403.50,829.30 L1405.50,829.30 L1408.50,829.30 L1411.50,829.30 L1414.50,829.30 L1417.50,829.30 L1420.50,829.30 L1423.50,829.30 L1426.50,829.30 L1428.50,829.30 L1431.50,829.30 L1434.50,829.30 L1437.50,829.30 L1440.50,829.30 L1443.50,829.30 L1446.50,829.30 L1449.50,829.30 L1451.50,829.30 L1454.50,829.30 L1457.50,829.30 L1460.50,829.30 L1463.50,829.30 L1466.50,829.30 L1469.50,835.20 L1472.50,837.58 L1474.50,830.39 L1477.50,834.66 L1480.50,838.03 L1483.50,847.23 L1486.50,829.30 L1489.50,829.30 L1492.50,829.30 L1494.50,829.30 L1497.50,829.30 L1500.50,829.30 L1503.50,829.49 L1506.50,829.30 L1509.50,829.30 L1512.50,829.30 L1515.50,829.30 L1515.50,829.30 L10.50,829.30Z" fill="url(#gos)"/>
<polyline points="10.50,809.30 13.50,810.29 16.50,807.07 19.50,798.48 22.50,800.45 25.50,803.96 28.50,807.35 31.50,799.58 33.50,795.06 36.50,791.48 39.50,790.60 42.50,790.29 45.50,789.31 48.50,790.97 51.50,787.51 54.50,794.18 56.50,787.08 59.50,785.27 62.50,784.96 65.50,786.82 68.50,799.46 71.50,809.95 74.50,810.70 76.50,810.22 79.50,803.66 82.50,803.66 85.50,800.41 88.50,803.50 91.50,804.02 94.50,811.43 97.50,812.80 99.50,801.69 102.50,799.38 105.50,799.94 108.50,787.14 111.50,784.03 114.50,782.24 117.50,783.52 120.50,780.41 122.50,780.41 125.50,778.51 128.50,789.59 131.50,789.59 134.50,794.20 137.50,787.91 140.50,797.55 142.50,795.79 145.50,791.96 148.50,784.70 151.50,777.05 154.50,779.48 157.50,791.05 160.50,794.49 163.50,795.48 165.50,798.52 168.50,802.91 171.50,796.26 174.50,779.34 177.50,778.75 180.50,777.53 183.50,777.11 186.50,770.47 188.50,761.61 191.50,764.95 194.50,762.78 197.50,774.65 200.50,770.43 203.50,772.18 206.50,775.06 209.50,774.15 211.50,771.88 214.50,769.55 217.50,765.61 220.50,765.08 223.50,769.87 226.50,769.52 229.50,787.34 231.50,790.64 234.50,783.88 237.50,784.81 240.50,781.80 243.50,785.39 246.50,784.01 249.50,788.41 252.50,788.21 254.50,783.03 257.50,788.98 260.50,783.60 263.50,783.60 266.50,781.26 269.50,794.19 272.50,796.60 275.50,787.36 277.50,790.98 280.50,788.35 283.50,788.35 286.50,783.05 289.50,780.14 292.50,780.14 295.50,798.64 297.50,805.12 300.50,805.81 303.50,810.36 306.50,811.04 309.50,811.51 312.50,800.81 315.50,799.15 318.50,808.30 320.50,811.86 323.50,809.12 326.50,812.77 329.50,814.56 332.50,812.07 335.50,809.58 338.50,802.37 341.50,799.21 343.50,798.95 346.50,798.66 349.50,788.85 352.50,804.66 355.50,809.17 358.50,814.54 361.50,808.67 364.50,808.90 366.50,809.14 369.50,809.14 372.50,803.15 375.50,793.31 378.50,795.18 381.50,786.67 384.50,786.13 386.50,795.78 389.50,794.27 392.50,786.41 395.50,793.67 398.50,793.47 401.50,791.23 404.50,791.55 407.50,798.19 409.50,799.70 412.50,802.16 415.50,795.82 418.50,793.39 421.50,800.80 424.50,805.97 427.50,813.25 430.50,803.22 432.50,811.20 435.50,813.86 438.50,813.86 441.50,814.08 444.50,814.08 447.50,814.34 450.50,810.72 452.50,815.18 455.50,807.81 458.50,811.52 461.50,808.41 464.50,808.06 467.50,812.72 470.50,813.63 473.50,814.57 475.50,809.82 478.50,803.17 481.50,810.53 484.50,808.95 487.50,810.01 490.50,823.64 493.50,829.28 496.50,836.06 498.50,834.42 501.50,834.87 504.50,828.01 507.50,802.95 510.50,818.06 513.50,815.55 516.50,808.28 519.50,809.54 521.50,814.85 524.50,815.84 527.50,823.87 530.50,826.60 533.50,816.42 536.50,814.71 539.50,818.59 541.50,812.50 544.50,811.65 547.50,814.54 550.50,811.33 553.50,813.69 556.50,804.47 559.50,809.57 562.50,809.76 564.50,810.35 567.50,804.96 570.50,801.87 573.50,802.11 576.50,803.40 579.50,802.62 582.50,809.89 585.50,814.02 587.50,814.70 590.50,814.04 593.50,805.60 596.50,812.46 599.50,810.63 602.50,808.45 605.50,809.29 608.50,821.31 610.50,818.94 613.50,824.40 616.50,806.57 619.50,812.59 622.50,804.14 625.50,800.39 628.50,803.85 630.50,802.17 633.50,804.24 636.50,803.30 639.50,801.15 642.50,802.50 645.50,800.94 648.50,800.66 651.50,794.40 653.50,782.89 656.50,782.41 659.50,782.07 662.50,780.83 665.50,780.83 668.50,784.23 671.50,781.72 674.50,784.81 676.50,785.27 679.50,780.07 682.50,779.24 685.50,784.17 688.50,791.47 691.50,790.33 694.50,784.76 696.50,784.26 699.50,772.45 702.50,773.82 705.50,771.27 708.50,773.66 711.50,779.76 714.50,777.30 717.50,780.14 719.50,779.71 722.50,780.76 725.50,782.92 728.50,775.34 731.50,779.96 734.50,777.42 737.50,772.17 740.50,769.19 742.50,787.89 745.50,786.65 748.50,784.38 751.50,783.55 754.50,785.70 757.50,790.36 760.50,798.79 763.50,804.50 765.50,802.26 768.50,798.83 771.50,798.51 774.50,800.11 777.50,802.93 780.50,813.93 783.50,803.92 785.50,799.90 788.50,799.59 791.50,787.55 794.50,787.93 797.50,793.71 800.50,803.08 803.50,802.79 806.50,804.75 808.50,804.07 811.50,800.00 814.50,807.68 817.50,806.59 820.50,807.65 823.50,812.12 826.50,815.95 829.50,819.51 831.50,802.46 834.50,800.62 837.50,796.72 840.50,797.86 843.50,797.54 846.50,796.85 849.50,793.12 851.50,799.02 854.50,804.77 857.50,794.25 860.50,791.93 863.50,798.50 866.50,797.84 869.50,794.56 872.50,798.47 874.50,796.37 877.50,788.86 880.50,778.51 883.50,775.73 886.50,776.20 889.50,773.28 892.50,772.15 895.50,782.20 897.50,779.95 900.50,778.94 903.50,785.53 906.50,785.53 909.50,788.46 912.50,788.16 915.50,781.42 918.50,787.92 920.50,788.90 923.50,792.86 926.50,791.84 929.50,787.00 932.50,794.14 935.50,795.13 938.50,795.13 940.50,804.87 943.50,814.43 946.50,817.07 949.50,809.31 952.50,805.96 955.50,809.43 958.50,805.54 961.50,796.21 963.50,799.62 966.50,800.49 969.50,791.05 972.50,793.78 975.50,789.23 978.50,781.51 981.50,800.15 984.50,803.20 986.50,802.91 989.50,803.24 992.50,807.28 995.50,816.70 998.50,811.67 1001.50,816.37 1004.50,802.77 1007.50,806.81 1009.50,811.55 1012.50,818.85 1015.50,813.76 1018.50,814.85 1021.50,810.88 1024.50,819.79 1027.50,818.54 1029.50,819.76 1032.50,816.39 1035.50,810.03 1038.50,808.51 1041.50,811.20 1044.50,811.20 1047.50,812.65 1050.50,809.26 1052.50,805.60 1055.50,807.68 1058.50,799.32 1061.50,794.53 1064.50,792.81 1067.50,793.68 1070.50,796.33 1073.50,796.33 1075.50,791.19 1078.50,793.20 1081.50,790.77 1084.50,798.30 1087.50,797.91 1090.50,800.43 1093.50,811.35 1095.50,813.97 1098.50,807.77 1101.50,821.63 1104.50,818.92 1107.50,818.45 1110.50,808.10 1113.50,800.00 1116.50,801.50 1118.50,788.61 1121.50,784.52 1124.50,781.04 1127.50,780.85 1130.50,778.73 1133.50,776.35 1136.50,790.42 1139.50,786.31 1141.50,792.44 1144.50,813.85 1147.50,818.48 1150.50,807.58 1153.50,807.36 1156.50,811.89 1159.50,816.05 1162.50,820.18 1164.50,822.94 1167.50,820.71 1170.50,816.82 1173.50,811.54 1176.50,815.81 1179.50,817.30 1182.50,810.54 1184.50,808.24 1187.50,806.68 1190.50,799.63 1193.50,800.70 1196.50,803.95 1199.50,811.06 1202.50,814.78 1205.50,811.00 1207.50,809.55 1210.50,808.05 1213.50,817.68 1216.50,826.36 1219.50,819.30 1222.50,823.52 1225.50,817.93 1228.50,819.67 1230.50,813.13 1233.50,809.81 1236.50,815.75 1239.50,818.11 1242.50,821.58 1245.50,828.97 1248.50,826.35 1250.50,828.16 1253.50,830.82 1256.50,828.57 1259.50,830.54 1262.50,836.44 1265.50,837.98 1268.50,838.40 1271.50,831.12 1273.50,826.23 1276.50,827.77 1279.50,817.88 1282.50,815.59 1285.50,816.41 1288.50,816.63 1291.50,817.53 1294.50,825.72 1296.50,810.73 1299.50,805.60 1302.50,808.51 1305.50,814.11 1308.50,814.31 1311.50,811.19 1314.50,810.61 1317.50,804.67 1319.50,806.55 1322.50,805.09 1325.50,811.08 1328.50,811.08 1331.50,816.48 1334.50,820.61 1337.50,815.56 1339.50,819.53 1342.50,820.88 1345.50,811.60 1348.50,810.93 1351.50,809.87 1354.50,809.87 1357.50,813.66 1360.50,812.81 1362.50,814.15 1365.50,813.67 1368.50,811.21 1371.50,811.21 1374.50,814.15 1377.50,807.26 1380.50,810.81 1383.50,804.32 1385.50,797.03 1388.50,796.63 1391.50,793.00 1394.50,785.42 1397.50,786.60 1400.50,798.74 1403.50,799.69 1405.50,801.18 1408.50,803.19 1411.50,800.77 1414.50,798.37 1417.50,784.01 1420.50,779.78 1423.50,787.87 1426.50,787.57 1428.50,789.23 1431.50,797.10 1434.50,802.27 1437.50,816.48 1440.50,813.45 1443.50,812.13 1446.50,812.13 1449.50,813.65 1451.50,822.57 1454.50,814.13 1457.50,809.56 1460.50,809.75 1463.50,823.71 1466.50,824.31 1469.50,835.20 1472.50,837.58 1474.50,830.39 1477.50,834.66 1480.50,838.03 1483.50,847.23 1486.50,825.50 1489.50,827.01 1492.50,824.46 1494.50,826.64 1497.50,827.29 1500.50,828.50 1503.50,829.49 1506.50,821.86 1509.50,819.61 1512.50,821.02 1515.50,821.71" fill="none" stroke="#7e57c2" stroke-width="1"/>
<polyline points="10.50,816.13 13.50,815.83 16.50,815.41 19.50,814.29 22.50,813.29 25.50,812.23 28.50,811.92 31.50,810.74 33.50,809.37 36.50,807.39 39.50,804.96 42.50,802.57 45.50,800.34 48.50,798.87 51.50,797.31 54.50,796.16 56.50,794.74 59.50,793.79 62.50,792.69 65.50,791.46 68.50,790.90 71.50,791.64 74.50,792.76 76.50,794.09 79.50,795.03 82.50,795.98 85.50,796.77 88.50,797.67 91.50,798.85 94.50,800.08 97.50,801.92 99.50,803.09 102.50,804.12 105.50,805.06 108.50,804.18 111.50,802.33 114.50,800.29 117.50,798.39 120.50,796.73 122.50,795.07 125.50,793.50 128.50,792.51 131.50,791.48 134.50,790.25 137.50,788.47 140.50,788.17 142.50,787.92 145.50,787.35 148.50,787.17 151.50,786.67 154.50,786.48 157.50,787.01 160.50,788.02 163.50,789.10 165.50,790.52 168.50,791.48 171.50,791.95 174.50,790.89 177.50,790.24 180.50,788.81 183.50,787.47 186.50,785.94 188.50,784.29 191.50,783.42 194.50,782.23 197.50,781.06 200.50,779.34 203.50,777.68 206.50,776.00 209.50,773.95 211.50,772.21 214.50,771.51 217.50,770.57 220.50,769.68 223.50,769.16 226.50,769.09 229.50,770.93 231.50,772.77 234.50,774.27 237.50,775.00 240.50,775.81 243.50,776.75 246.50,777.39 249.50,778.41 252.50,779.58 254.50,780.54 257.50,782.21 260.50,783.53 263.50,784.51 266.50,785.35 269.50,785.84 272.50,786.27 275.50,786.52 277.50,786.96 280.50,787.43 283.50,787.64 286.50,787.57 289.50,786.98 292.50,786.40 295.50,787.52 297.50,788.67 300.50,790.26 303.50,792.17 306.50,794.29 309.50,795.53 312.50,795.83 315.50,796.67 318.50,797.91 320.50,799.59 323.50,801.07 326.50,803.20 329.50,805.66 332.50,807.94 335.50,808.72 338.50,808.52 341.50,808.05 343.50,807.23 346.50,806.35 349.50,804.73 352.50,805.01 355.50,805.72 358.50,806.17 361.50,805.94 364.50,805.92 366.50,805.67 369.50,805.28 372.50,804.64 375.50,803.48 378.50,802.96 381.50,802.07 384.50,801.15 386.50,800.95 389.50,801.34 392.50,800.03 395.50,798.92 398.50,797.42 401.50,796.17 404.50,794.94 407.50,794.15 409.50,793.48 412.50,793.41 415.50,793.59 418.50,793.46 421.50,794.47 424.50,795.89 427.50,797.13 430.50,797.77 432.50,799.54 435.50,800.99 438.50,802.44 441.50,804.08 444.50,805.68 447.50,806.84 450.50,807.63 452.50,808.56 455.50,809.41 458.50,810.71 461.50,811.25 464.50,811.40 467.50,811.36 470.50,812.11 473.50,812.35 475.50,812.06 478.50,811.29 481.50,811.04 484.50,810.67 487.50,810.36 490.50,811.29 493.50,812.29 496.50,814.31 498.50,815.95 501.50,817.84 504.50,819.26 507.50,818.57 510.50,818.88 513.50,818.95 516.50,818.84 519.50,819.30 521.50,819.60 524.50,820.10 527.50,821.09 530.50,821.30 533.50,820.38 536.50,818.86 539.50,817.72 541.50,816.13 544.50,814.96 547.50,815.79 550.50,815.31 553.50,815.17 556.50,814.90 559.50,814.90 562.50,814.54 564.50,814.15 567.50,812.80 570.50,811.03 573.50,810.01 576.50,809.20 579.50,808.06 582.50,807.87 585.50,808.04 587.50,808.05 590.50,808.25 593.50,807.67 596.50,808.24 599.50,808.32 602.50,808.22 605.50,808.15 608.50,809.31 610.50,810.53 613.50,812.13 616.50,812.35 619.50,813.06 622.50,812.65 625.50,811.68 628.50,810.90 630.50,810.06 633.50,809.96 636.50,809.30 639.50,808.63 642.50,808.20 645.50,807.61 648.50,806.13 651.50,804.38 653.50,801.41 656.50,799.69 659.50,797.51 662.50,795.84 665.50,794.45 668.50,793.04 671.50,791.58 674.50,790.20 676.50,788.91 679.50,787.40 682.50,785.74 685.50,784.54 688.50,783.89 691.50,783.60 694.50,783.73 696.50,783.86 699.50,783.17 702.50,782.67 705.50,781.99 708.50,781.23 711.50,781.09 714.50,780.56 717.50,780.19 719.50,780.17 722.50,780.27 725.50,780.19 728.50,779.03 731.50,778.29 734.50,777.77 737.50,776.91 740.50,776.67 742.50,777.68 745.50,778.78 748.50,779.54 751.50,779.81 754.50,780.41 757.50,781.14 760.50,782.51 763.50,784.20 765.50,785.58 768.50,787.26 771.50,788.58 774.50,790.21 777.50,792.40 780.50,795.60 783.50,796.74 785.50,797.69 788.50,798.78 791.50,799.06 794.50,799.22 797.50,799.46 800.50,799.77 803.50,799.64 806.50,799.82 808.50,800.20 811.50,800.30 814.50,800.84 817.50,801.11 820.50,800.66 823.50,801.24 826.50,802.39 829.50,803.81 831.50,804.88 834.50,805.78 837.50,806.00 840.50,805.63 843.50,805.25 846.50,804.69 849.50,803.91 851.50,803.84 854.50,803.63 857.50,802.75 860.50,801.62 863.50,800.65 866.50,799.36 869.50,797.58 872.50,797.29 874.50,796.99 877.50,796.43 880.50,795.04 883.50,793.48 886.50,792.01 889.50,790.59 892.50,788.67 895.50,787.06 897.50,786.04 900.50,785.11 903.50,784.18 906.50,783.31 909.50,782.87 912.50,782.13 915.50,781.07 918.50,781.00 920.50,781.74 923.50,782.96 926.50,784.08 929.50,785.06 932.50,786.63 935.50,787.56 938.50,788.64 940.50,790.49 943.50,792.56 946.50,794.81 949.50,796.30 952.50,797.57 955.50,799.57 958.50,800.83 961.50,801.35 963.50,801.84 966.50,802.45 969.50,802.74 972.50,802.72 975.50,802.29 978.50,801.32 981.50,800.99 984.50,800.18 986.50,799.17 989.50,798.74 992.50,798.83 995.50,799.35 998.50,799.79 1001.50,801.23 1004.50,801.45 1007.50,801.91 1009.50,803.37 1012.50,805.16 1015.50,806.91 1018.50,809.29 1021.50,810.06 1024.50,811.25 1027.50,812.36 1029.50,813.54 1032.50,814.19 1035.50,813.72 1038.50,813.49 1041.50,813.12 1044.50,813.72 1047.50,814.14 1050.50,813.98 1052.50,813.03 1055.50,812.60 1058.50,811.49 1061.50,810.32 1064.50,808.39 1067.50,806.62 1070.50,804.94 1073.50,803.51 1075.50,802.16 1078.50,801.07 1081.50,799.61 1084.50,798.69 1087.50,797.64 1090.50,797.01 1093.50,797.42 1095.50,797.86 1098.50,798.47 1101.50,800.40 1104.50,802.27 1107.50,804.04 1110.50,804.88 1113.50,805.14 1116.50,805.88 1118.50,805.55 1121.50,805.10 1124.50,803.87 1127.50,802.65 1130.50,801.10 1133.50,798.60 1136.50,796.92 1139.50,795.39 1141.50,793.30 1144.50,792.94 1147.50,792.94 1150.50,792.91 1153.50,793.43 1156.50,794.17 1159.50,796.13 1162.50,798.68 1164.50,801.67 1167.50,804.52 1170.50,807.24 1173.50,809.76 1176.50,811.57 1179.50,813.78 1182.50,815.08 1184.50,814.67 1187.50,813.83 1190.50,813.26 1193.50,812.79 1196.50,812.22 1199.50,811.86 1202.50,811.48 1205.50,810.63 1207.50,809.83 1210.50,809.20 1213.50,809.64 1216.50,810.39 1219.50,810.54 1222.50,811.46 1225.50,812.16 1228.50,813.08 1230.50,814.05 1233.50,814.70 1236.50,815.54 1239.50,816.05 1242.50,816.53 1245.50,817.81 1248.50,819.02 1250.50,820.45 1253.50,821.39 1256.50,821.55 1259.50,822.35 1262.50,823.27 1265.50,824.71 1268.50,826.04 1271.50,827.33 1273.50,828.50 1276.50,829.36 1279.50,829.34 1282.50,828.92 1285.50,828.02 1288.50,827.32 1291.50,826.57 1294.50,826.20 1296.50,824.93 1299.50,823.15 1302.50,821.15 1305.50,819.45 1308.50,817.72 1311.50,816.30 1314.50,815.18 1317.50,813.53 1319.50,812.73 1322.50,811.97 1325.50,811.59 1328.50,811.20 1331.50,811.12 1334.50,810.76 1337.50,811.10 1339.50,812.10 1342.50,812.98 1345.50,812.80 1348.50,812.56 1351.50,812.46 1354.50,812.41 1357.50,813.05 1360.50,813.50 1362.50,814.15 1365.50,814.33 1368.50,814.34 1371.50,813.97 1374.50,813.51 1377.50,812.91 1380.50,812.29 1383.50,811.11 1385.50,810.07 1388.50,809.05 1391.50,807.84 1394.50,806.10 1397.50,804.16 1400.50,803.16 1403.50,802.12 1405.50,801.23 1408.50,800.66 1411.50,799.91 1414.50,798.79 1417.50,797.13 1420.50,794.91 1423.50,793.73 1426.50,793.06 1428.50,792.53 1431.50,792.82 1434.50,794.03 1437.50,796.16 1440.50,797.21 1443.50,798.10 1446.50,798.88 1449.50,799.63 1451.50,801.19 1454.50,802.31 1457.50,804.14 1460.50,806.28 1463.50,808.84 1466.50,811.46 1469.50,814.74 1472.50,817.64 1474.50,819.65 1477.50,820.94 1480.50,822.70 1483.50,825.21 1486.50,826.16 1489.50,827.12 1492.50,827.25 1494.50,828.14 1497.50,829.41 1500.50,830.75 1503.50,831.16 1506.50,830.99 1509.50,829.87 1512.50,828.69 1515.50,828.07" fill="none" stroke="#fdd835" stroke-width="1"/>
<line x1="1453.7" y1="836.8" x2="1526.3" y2="808.4" stroke="#b2ebf2" stroke-width="1.7"/>
<line x1="1464.7" y1="855.1" x2="1523.2" y2="823.6" stroke="#b2ebf2" stroke-width="1.7"/>
</g>
<g class="t">
<!-- header -->
<text x="10" y="19" font-size="12.5" fill="#dcdcdc" stroke="#dcdcdc" stroke-width="0.3" textLength="340.7" lengthAdjust="spacingAndGlyphs">Ron2ee created with TradingView.com, Feb 16, 2026 06:47 UTC</text>
<!-- legends -->
<g font-size="12" fill="#d1d4dc">
<text x="17.7" y="45.8" textLength="37.3" lengthAdjust="spacingAndGlyphs">Bitcoin</text><text x="59.9" y="45.8">/</text><text x="69.8" y="45.8" textLength="46.8" lengthAdjust="spacingAndGlyphs">TetherUS</text><text x="120.9" y="45.8">·</text><text x="129.7" y="45.8" textLength="12.3" lengthAdjust="spacingAndGlyphs">1D</text><text x="146.4" y="45.8">·</text><text x="153.5" y="45.8" textLength="41.9" lengthAdjust="spacingAndGlyphs">Binance</text>
<text x="203.6" y="45.8">O</text><text x="211.3" y="45.8" fill="#f23645" textLength="52.8" lengthAdjust="spacingAndGlyphs">68,832.59</text>
<text x="271.6" y="45.8">H</text><text x="279.7" y="45.8" fill="#f23645" textLength="52.3" lengthAdjust="spacingAndGlyphs">69,065.50</text>
<text x="339.4" y="45.8">L</text><text x="345.7" y="45.8" fill="#f23645" textLength="52.3" lengthAdjust="spacingAndGlyphs">68,143.22</text>
<text x="405.5" y="45.8">C</text><text x="413" y="45.8" fill="#f23645" textLength="51.7" lengthAdjust="spacingAndGlyphs">68,424.61</text>
<text x="472.8" y="45.8" fill="#f23645" textLength="91.3" lengthAdjust="spacingAndGlyphs">−407.97 (−0.59%)</text>
<text x="17.6" y="665.5" textLength="125.6" lengthAdjust="spacingAndGlyphs">MACD (close, 12, 26, 9)</text>
<text x="150.8" y="665.5" fill="#26a69a" textLength="35.7" lengthAdjust="spacingAndGlyphs">251.00</text>
<text x="194.1" y="665.5" fill="#2962ff" textLength="51.7" lengthAdjust="spacingAndGlyphs">−4,929.36</text>
<text x="253.5" y="665.5" fill="#ff6d00" textLength="52.5" lengthAdjust="spacingAndGlyphs">−5,180.36</text>
<text x="18.4" y="774" textLength="75.3" lengthAdjust="spacingAndGlyphs">RSI (14, close)</text>
<text x="103" y="774" fill="#7e57c2" textLength="28" lengthAdjust="spacingAndGlyphs">35.58</text>
<text x="138.4" y="774" fill="#fdd835" textLength="29.7" lengthAdjust="spacingAndGlyphs">30.78</text>
</g>
<!-- price axis labels -->
<g font-size="12" fill="#b2b5be" stroke="#b2b5be" stroke-width="0.15">
<text x="1748.5" y="44.4" textLength="58.3" lengthAdjust="spacingAndGlyphs">132,000.00</text>
<text x="1748.5" y="75.4" textLength="58.3" lengthAdjust="spacingAndGlyphs">128,000.00</text>
<text x="1748.5" y="105.4" textLength="58.3" lengthAdjust="spacingAndGlyphs">124,000.00</text>
<text x="1748.5" y="136.4" textLength="58.3" lengthAdjust="spacingAndGlyphs">120,000.00</text>
<text x="1748.5" y="166.4" textLength="58.3" lengthAdjust="spacingAndGlyphs">116,000.00</text>
<text x="1748.5" y="197.4" textLength="58.3" lengthAdjust="spacingAndGlyphs">112,000.00</text>
<text x="1748.5" y="228.4" textLength="58.3" lengthAdjust="spacingAndGlyphs">108,000.00</text>
<text x="1748.5" y="258.4" textLength="58.3" lengthAdjust="spacingAndGlyphs">104,000.00</text>
<text x="1748.5" y="289.4" textLength="58.3" lengthAdjust="spacingAndGlyphs">100,000.00</text>
<text x="1748.5" y="320.4" textLength="53.0" lengthAdjust="spacingAndGlyphs">96,000.00</text>
<text x="1748.5" y="350.4" textLength="53.0" lengthAdjust="spacingAndGlyphs">92,000.00</text>
<text x="1748.5" y="381.4" textLength="53.0" lengthAdjust="spacingAndGlyphs">88,000.00</text>
<text x="1748.5" y="411.4" textLength="53.0" lengthAdjust="spacingAndGlyphs">84,000.00</text>
<text x="1748.5" y="442.4" textLength="53.0" lengthAdjust="spacingAndGlyphs">80,000.00</text>
<text x="1748.5" y="473.4" textLength="53.0" lengthAdjust="spacingAndGlyphs">76,000.00</text>
<text x="1748.5" y="503.4" textLength="53.0" lengthAdjust="spacingAndGlyphs">72,000.00</text>
<text x="1748.5" y="534.4" textLength="53.0" lengthAdjust="spacingAndGlyphs">68,000.00</text>
<text x="1748.5" y="564.4" textLength="53.0" lengthAdjust="spacingAndGlyphs">64,000.00</text>
<text x="1748.5" y="595.4" textLength="53.0" lengthAdjust="spacingAndGlyphs">60,000.00</text>
<text x="1748.5" y="626.4" textLength="53.0" lengthAdjust="spacingAndGlyphs">56,000.00</text>
<text x="1748.5" y="674.8" textLength="46" lengthAdjust="spacingAndGlyphs">5,000.00</text>
<text x="1748.5" y="777.3" textLength="29" lengthAdjust="spacingAndGlyphs">75.00</text>
<text x="1748.5" y="808.3" textLength="29" lengthAdjust="spacingAndGlyphs">50.00</text>
</g>
<!-- axis badges -->
<rect x="1740" y="469" width="66" height="17" rx="2" fill="#e91e63"/>
<text x="1748" y="481.8" font-size="12" fill="#fff" stroke="#fff" stroke-width="0.35" textLength="52" lengthAdjust="spacingAndGlyphs">75,052.91</text>
<rect x="1740" y="519" width="66" height="31" rx="2" fill="#f23645"/>
<text x="1748" y="531" font-size="12" fill="#fff" stroke="#fff" stroke-width="0.35" textLength="52" lengthAdjust="spacingAndGlyphs">68,424.61</text>
<text x="1748" y="545" font-size="12" fill="#fde8ea" stroke="#fde8ea" stroke-width="0.35" textLength="46.4" lengthAdjust="spacingAndGlyphs">17:12:07</text>
<rect x="1740" y="695" width="49" height="17" rx="2" fill="#22ab94"/>
<text x="1748" y="708" font-size="12" fill="#fff" stroke="#fff" stroke-width="0.35" textLength="35" lengthAdjust="spacingAndGlyphs">251.00</text>
<rect x="1740" y="730" width="66" height="17" rx="2" fill="#2962ff"/>
<text x="1748" y="743" font-size="12" fill="#fff" stroke="#fff" stroke-width="0.35" textLength="52" lengthAdjust="spacingAndGlyphs">−4,929.36</text>
<svg x="1740" y="747" width="66" height="7" overflow="hidden"><rect x="0" y="0" width="66" height="17" rx="2" fill="#ff6d00"/><text x="8" y="13" font-size="12" fill="#fff" stroke="#fff" stroke-width="0.35" textLength="52" lengthAdjust="spacingAndGlyphs">−5,180.36</text></svg>
<rect x="1740" y="814" width="43" height="17" rx="2" fill="#7e57c2"/>
<text x="1748" y="827" font-size="12" fill="#fff" stroke="#fff" stroke-width="0.35" textLength="29" lengthAdjust="spacingAndGlyphs">35.58</text>
<rect x="1740" y="831" width="43" height="17" rx="2" fill="#fdd835"/>
<text x="1748" y="844" font-size="12" fill="#131722" stroke="#131722" stroke-width="0.25" textLength="29" lengthAdjust="spacingAndGlyphs">30.78</text>
<!-- time axis -->
<g font-size="12.5" fill="#b2b5be" stroke="#b2b5be" stroke-width="0.2" text-anchor="middle">
<text transform="translate(71.5,880) scale(0.9,1)">Oct</text>
<text transform="translate(160.5,880) scale(0.9,1)">Nov</text>
<text transform="translate(246.5,880) scale(0.9,1)">Dec</text>
<text transform="translate(335.5,880) scale(1,1)" font-weight="bold" stroke-width="0">2025</text>
<text transform="translate(424.5,880) scale(0.9,1)">Feb</text>
<text transform="translate(504.5,880) scale(0.9,1)">Mar</text>
<text transform="translate(593.5,880) scale(0.9,1)">Apr</text>
<text transform="translate(679.5,880) scale(0.9,1)">May</text>
<text transform="translate(768.5,880) scale(0.9,1)">Jun</text>
<text transform="translate(854.5,880) scale(0.9,1)">Jul</text>
<text transform="translate(943.5,880) scale(0.9,1)">Aug</text>
<text transform="translate(1032.5,880) scale(0.9,1)">Sep</text>
<text transform="translate(1118.5,880) scale(0.9,1)">Oct</text>
<text transform="translate(1207.5,880) scale(0.9,1)">Nov</text>
<text transform="translate(1294.5,880) scale(0.9,1)">Dec</text>
<text transform="translate(1383.5,880) scale(1,1)" font-weight="bold" stroke-width="0">2026</text>
<text transform="translate(1472.5,880) scale(0.9,1)">Feb</text>
<text transform="translate(1552.5,880) scale(0.9,1)">Mar</text>
<text transform="translate(1641.5,880) scale(0.9,1)">Apr</text>
<text transform="translate(1727.5,880) scale(0.9,1)">May</text>
</g>
</g>
<!-- lightning icon -->
<g transform="translate(1515.4,633.4)">
<circle r="10" fill="#0d0e12" stroke="#0d0e12" stroke-width="2"/>
<circle r="9.8" fill="none" stroke="#ab5fc7" stroke-width="1.6"/>
<path d="M2.7,-5.1 L-3.8,0.7 L-0.2,0.7 L-3.1,5.6 L4.1,-0.7 L0.5,-0.7Z" fill="#b05ccc"/>
<circle cx="7" cy="-7" r="3.4" fill="#0d0e12"/>
<circle cx="7" cy="-7" r="2.6" fill="#e8454e"/>
</g>
<!-- logo -->
<g fill="#e0e0e0">
<path d="M11.8,912 H24.1 V927 H17.7 V918.2 H11.8Z"/>
<circle cx="29.1" cy="914.7" r="2.5"/>
<path d="M33.5,912 H41.9 L37.9,927 H29.1Z"/>
</g>
<text class="t" x="49" y="927" font-size="20.5" font-weight="bold" fill="#e0e0e0" stroke="#1f1f1f" stroke-width="0.2" textLength="120.5" lengthAdjust="spacingAndGlyphs">TradingView</text>
</svg>
</body></html>
